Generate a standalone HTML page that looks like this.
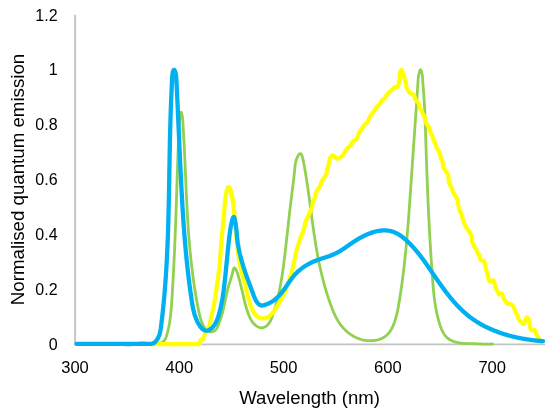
<!DOCTYPE html>
<html><head><meta charset="utf-8"><title>Normalised quantum emission</title>
<style>html,body{margin:0;padding:0;background:#fff}svg{display:block}text{font-family:"Liberation Sans",sans-serif;fill:#000}</style></head>
<body>
<svg width="550" height="413" viewBox="0 0 550 413">
<rect width="550" height="413" fill="#fff"/>
<line x1="75.1" y1="14.8" x2="75.1" y2="345.1" stroke="#c4c4c4" stroke-width="1.9"/>
<line x1="74.5" y1="344.3" x2="545" y2="344.3" stroke="#c4c4c4" stroke-width="1.7"/>
<path d="M150.22,343.61 L150.86,343.58 L151.69,343.57 L152.66,343.59 L153.75,343.60 L154.93,343.60 L156.16,343.58 L157.41,343.50 L158.65,343.36 L159.84,343.15 L160.97,342.84 L161.99,342.42 L162.88,341.88 L163.65,341.23 L164.32,340.48 L164.89,339.65 L165.39,338.75 L165.82,337.80 L166.20,336.81 L166.54,335.79 L166.85,334.75 L167.16,333.72 L167.44,332.68 L167.72,331.63 L167.98,330.59 L168.23,329.54 L168.47,328.49 L168.69,327.44 L168.91,326.39 L169.11,325.33 L169.30,324.27 L169.49,323.21 L169.66,322.15 L169.82,321.09 L169.98,320.03 L170.13,318.96 L170.27,317.89 L170.40,316.82 L170.53,315.76 L170.65,314.69 L170.76,313.61 L170.87,312.54 L170.97,311.47 L171.07,310.40 L171.16,309.32 L171.25,308.25 L171.33,307.17 L171.42,306.10 L171.50,305.02 L171.57,303.95 L171.65,302.87 L171.72,301.80 L171.79,300.72 L171.87,299.65 L171.94,298.57 L172.01,297.50 L172.08,296.42 L172.15,295.35 L172.22,294.28 L172.29,293.20 L172.35,292.13 L172.42,291.06 L172.49,289.98 L172.55,288.91 L172.62,287.84 L172.68,286.77 L172.74,285.70 L172.81,284.62 L172.87,283.55 L172.93,282.48 L172.99,281.41 L173.05,280.34 L173.11,279.27 L173.17,278.20 L173.23,277.13 L173.29,276.06 L173.35,274.99 L173.40,273.92 L173.46,272.85 L173.52,271.78 L173.57,270.71 L173.63,269.64 L173.68,268.57 L173.74,267.50 L173.79,266.43 L173.84,265.37 L173.90,264.30 L173.95,263.23 L174.00,262.16 L174.05,261.09 L174.10,260.02 L174.15,258.95 L174.20,257.89 L174.25,256.82 L174.30,255.75 L174.35,254.68 L174.40,253.61 L174.45,252.55 L174.49,251.48 L174.54,250.41 L174.59,249.34 L174.63,248.27 L174.68,247.21 L174.72,246.14 L174.77,245.07 L174.81,244.00 L174.86,242.93 L174.90,241.87 L174.95,240.80 L174.99,239.73 L175.03,238.66 L175.08,237.59 L175.12,236.53 L175.16,235.46 L175.20,234.39 L175.24,233.32 L175.28,232.25 L175.33,231.19 L175.37,230.12 L175.41,229.05 L175.45,227.98 L175.49,226.91 L175.53,225.84 L175.57,224.77 L175.60,223.70 L175.64,222.63 L175.68,221.57 L175.72,220.50 L175.76,219.43 L175.80,218.36 L175.84,217.29 L175.87,216.22 L175.91,215.15 L175.95,214.08 L175.99,213.01 L176.02,211.94 L176.06,210.87 L176.10,209.79 L176.13,208.72 L176.17,207.65 L176.21,206.58 L176.24,205.51 L176.28,204.44 L176.31,203.37 L176.35,202.29 L176.39,201.22 L176.42,200.15 L176.46,199.07 L176.49,198.00 L176.53,196.93 L176.56,195.85 L176.60,194.78 L176.63,193.71 L176.67,192.63 L176.71,191.56 L176.74,190.48 L176.78,189.41 L176.81,188.33 L176.85,187.26 L176.88,186.18 L176.92,185.10 L176.95,184.03 L176.99,182.95 L177.02,181.87 L177.06,180.79 L177.09,179.72 L177.13,178.64 L177.16,177.56 L177.20,176.48 L177.24,175.40 L177.27,174.32 L177.31,173.24 L177.34,172.16 L177.38,171.08 L177.42,170.00 L177.45,168.92 L177.49,167.83 L177.52,166.75 L177.56,165.67 L177.60,164.59 L177.63,163.50 L177.67,162.42 L177.71,161.33 L177.75,160.25 L177.78,159.16 L177.82,158.08 L177.86,156.99 L177.90,155.90 L177.93,154.82 L177.97,153.73 L178.01,152.64 L178.05,151.55 L178.09,150.46 L178.13,149.37 L178.17,148.29 L178.21,147.20 L178.25,146.11 L178.29,145.02 L178.33,143.94 L178.37,142.86 L178.41,141.78 L178.45,140.70 L178.50,139.64 L178.54,138.57 L178.58,137.52 L178.63,136.47 L178.67,135.42 L178.72,134.39 L178.77,133.36 L178.81,132.35 L178.86,131.34 L178.91,130.35 L178.96,129.36 L179.01,128.39 L179.06,127.43 L179.12,126.47 L179.18,125.51 L179.25,124.54 L179.33,123.54 L179.42,122.50 L179.53,121.42 L179.65,120.29 L179.80,119.10 L179.97,117.83 L180.16,116.48 L180.38,115.04 L180.63,113.67 L180.90,112.64 L181.18,112.21 L181.47,112.57 L181.75,113.55 L182.02,114.89 L182.25,116.31 L182.44,117.63 L182.60,118.86 L182.72,120.00 L182.82,121.07 L182.89,122.09 L182.95,123.08 L183.01,124.04 L183.06,125.01 L183.11,125.99 L183.16,126.98 L183.21,127.99 L183.27,129.01 L183.32,130.04 L183.38,131.08 L183.44,132.13 L183.50,133.19 L183.56,134.26 L183.62,135.34 L183.69,136.41 L183.75,137.50 L183.81,138.58 L183.87,139.67 L183.93,140.76 L183.99,141.85 L184.05,142.94 L184.11,144.02 L184.16,145.11 L184.22,146.20 L184.28,147.28 L184.33,148.36 L184.39,149.45 L184.44,150.53 L184.49,151.62 L184.54,152.70 L184.60,153.78 L184.65,154.86 L184.70,155.94 L184.75,157.02 L184.80,158.10 L184.85,159.18 L184.89,160.26 L184.94,161.34 L184.99,162.42 L185.04,163.49 L185.09,164.57 L185.13,165.65 L185.18,166.72 L185.23,167.80 L185.27,168.87 L185.32,169.95 L185.36,171.02 L185.41,172.10 L185.45,173.17 L185.50,174.24 L185.54,175.32 L185.59,176.39 L185.63,177.46 L185.68,178.53 L185.72,179.61 L185.77,180.68 L185.82,181.75 L185.86,182.82 L185.91,183.89 L185.95,184.96 L186.00,186.03 L186.04,187.10 L186.09,188.17 L186.14,189.24 L186.18,190.31 L186.23,191.38 L186.28,192.45 L186.33,193.52 L186.37,194.59 L186.42,195.65 L186.47,196.72 L186.52,197.79 L186.57,198.86 L186.62,199.93 L186.67,201.00 L186.72,202.06 L186.78,203.13 L186.83,204.20 L186.88,205.27 L186.94,206.33 L186.99,207.40 L187.05,208.47 L187.10,209.54 L187.16,210.60 L187.22,211.67 L187.28,212.74 L187.34,213.81 L187.40,214.87 L187.46,215.94 L187.52,217.01 L187.58,218.08 L187.65,219.14 L187.71,220.21 L187.78,221.28 L187.84,222.35 L187.91,223.41 L187.98,224.48 L188.05,225.55 L188.12,226.62 L188.20,227.69 L188.27,228.75 L188.34,229.82 L188.42,230.89 L188.50,231.96 L188.58,233.03 L188.65,234.10 L188.74,235.16 L188.82,236.23 L188.90,237.30 L188.99,238.37 L189.07,239.44 L189.16,240.51 L189.25,241.58 L189.34,242.64 L189.43,243.71 L189.52,244.78 L189.61,245.85 L189.71,246.92 L189.81,247.99 L189.91,249.05 L190.00,250.12 L190.11,251.19 L190.21,252.26 L190.31,253.33 L190.42,254.40 L190.53,255.46 L190.63,256.53 L190.74,257.60 L190.86,258.67 L190.97,259.73 L191.09,260.80 L191.20,261.87 L191.32,262.94 L191.44,264.00 L191.56,265.07 L191.69,266.14 L191.81,267.21 L191.94,268.27 L192.07,269.34 L192.20,270.41 L192.33,271.47 L192.46,272.54 L192.60,273.61 L192.74,274.67 L192.88,275.74 L193.02,276.80 L193.16,277.87 L193.30,278.93 L193.45,280.00 L193.60,281.07 L193.75,282.13 L193.90,283.19 L194.06,284.26 L194.21,285.32 L194.37,286.39 L194.53,287.45 L194.70,288.52 L194.86,289.58 L195.03,290.64 L195.20,291.71 L195.37,292.77 L195.54,293.83 L195.72,294.89 L195.89,295.96 L196.07,297.02 L196.25,298.08 L196.44,299.14 L196.62,300.20 L196.81,301.26 L197.00,302.32 L197.19,303.38 L197.39,304.44 L197.59,305.50 L197.79,306.56 L197.99,307.62 L198.20,308.68 L198.41,309.73 L198.63,310.77 L198.85,311.82 L199.08,312.85 L199.32,313.88 L199.56,314.90 L199.82,315.91 L200.08,316.91 L200.36,317.91 L200.66,318.91 L200.99,319.90 L201.33,320.89 L201.71,321.88 L202.11,322.88 L202.55,323.88 L203.03,324.89 L203.55,325.91 L204.11,326.91 L204.72,327.87 L205.39,328.79 L206.11,329.62 L206.89,330.35 L207.74,330.96 L208.65,331.42 L209.64,331.72 L210.70,331.83 L211.78,331.78 L212.85,331.55 L213.88,331.16 L214.82,330.62 L215.63,329.93 L216.32,329.12 L216.92,328.20 L217.43,327.22 L217.88,326.19 L218.30,325.15 L218.70,324.11 L219.09,323.09 L219.46,322.08 L219.83,321.07 L220.18,320.07 L220.52,319.07 L220.85,318.08 L221.18,317.08 L221.49,316.08 L221.79,315.08 L222.08,314.07 L222.37,313.05 L222.64,312.02 L222.91,310.99 L223.17,309.95 L223.42,308.90 L223.67,307.85 L223.91,306.79 L224.15,305.72 L224.39,304.65 L224.62,303.58 L224.85,302.50 L225.07,301.42 L225.30,300.34 L225.52,299.26 L225.74,298.18 L225.96,297.10 L226.19,296.03 L226.41,294.96 L226.64,293.90 L226.87,292.85 L227.11,291.80 L227.35,290.77 L227.59,289.75 L227.84,288.75 L228.09,287.75 L228.36,286.78 L228.63,285.82 L228.90,284.88 L229.19,283.96 L229.48,283.04 L229.78,282.12 L230.09,281.19 L230.40,280.24 L230.71,279.26 L231.03,278.23 L231.36,277.16 L231.68,276.02 L232.01,274.81 L232.34,273.53 L232.67,272.15 L233.00,270.77 L233.36,269.51 L233.76,268.53 L234.22,267.98 L234.74,267.98 L235.32,268.54 L235.91,269.50 L236.48,270.67 L236.99,271.88 L237.40,273.01 L237.75,274.07 L238.05,275.09 L238.34,276.10 L238.62,277.11 L238.90,278.13 L239.18,279.15 L239.45,280.17 L239.72,281.20 L239.99,282.22 L240.25,283.26 L240.52,284.29 L240.78,285.33 L241.04,286.37 L241.29,287.41 L241.55,288.45 L241.80,289.50 L242.05,290.55 L242.30,291.60 L242.55,292.65 L242.80,293.70 L243.05,294.76 L243.29,295.81 L243.54,296.87 L243.78,297.92 L244.03,298.98 L244.28,300.03 L244.54,301.08 L244.80,302.14 L245.06,303.19 L245.33,304.23 L245.61,305.28 L245.90,306.32 L246.19,307.36 L246.49,308.39 L246.81,309.42 L247.13,310.45 L247.47,311.47 L247.82,312.48 L248.19,313.49 L248.57,314.49 L248.96,315.48 L249.38,316.47 L249.81,317.44 L250.28,318.40 L250.77,319.34 L251.29,320.26 L251.86,321.16 L252.47,322.02 L253.12,322.86 L253.83,323.66 L254.59,324.42 L255.41,325.14 L256.29,325.82 L257.24,326.43 L258.23,326.97 L259.26,327.39 L260.32,327.68 L261.38,327.80 L262.45,327.74 L263.50,327.51 L264.51,327.13 L265.48,326.63 L266.39,326.02 L267.21,325.34 L267.96,324.58 L268.64,323.77 L269.26,322.90 L269.82,321.99 L270.34,321.04 L270.81,320.05 L271.25,319.04 L271.65,318.02 L272.04,316.98 L272.41,315.94 L272.78,314.90 L273.13,313.86 L273.48,312.83 L273.82,311.80 L274.15,310.78 L274.47,309.75 L274.79,308.73 L275.10,307.70 L275.40,306.68 L275.70,305.66 L275.99,304.63 L276.28,303.61 L276.56,302.58 L276.83,301.56 L277.10,300.53 L277.36,299.49 L277.62,298.46 L277.87,297.43 L278.12,296.39 L278.36,295.35 L278.60,294.32 L278.83,293.27 L279.06,292.23 L279.28,291.19 L279.50,290.14 L279.71,289.10 L279.92,288.05 L280.13,287.00 L280.33,285.95 L280.52,284.90 L280.72,283.85 L280.91,282.80 L281.09,281.74 L281.27,280.69 L281.45,279.63 L281.63,278.57 L281.80,277.52 L281.97,276.46 L282.13,275.40 L282.29,274.34 L282.45,273.27 L282.61,272.21 L282.77,271.15 L282.92,270.08 L283.07,269.02 L283.21,267.95 L283.36,266.89 L283.50,265.82 L283.64,264.75 L283.78,263.69 L283.91,262.62 L284.05,261.55 L284.18,260.48 L284.31,259.41 L284.44,258.34 L284.57,257.27 L284.70,256.20 L284.83,255.13 L284.95,254.06 L285.08,252.99 L285.20,251.92 L285.32,250.85 L285.45,249.78 L285.57,248.71 L285.69,247.64 L285.81,246.57 L285.93,245.50 L286.05,244.43 L286.17,243.36 L286.29,242.28 L286.41,241.21 L286.53,240.14 L286.65,239.07 L286.77,238.00 L286.88,236.93 L287.00,235.86 L287.12,234.79 L287.24,233.73 L287.36,232.66 L287.47,231.59 L287.59,230.52 L287.71,229.45 L287.83,228.38 L287.95,227.32 L288.06,226.25 L288.18,225.18 L288.30,224.12 L288.42,223.05 L288.54,221.99 L288.66,220.92 L288.78,219.86 L288.90,218.79 L289.02,217.73 L289.14,216.67 L289.26,215.60 L289.38,214.54 L289.50,213.48 L289.63,212.42 L289.75,211.36 L289.87,210.30 L290.00,209.24 L290.12,208.18 L290.25,207.13 L290.38,206.07 L290.50,205.01 L290.63,203.96 L290.76,202.91 L290.89,201.85 L291.02,200.80 L291.15,199.74 L291.28,198.69 L291.41,197.64 L291.54,196.58 L291.68,195.53 L291.81,194.48 L291.94,193.42 L292.07,192.37 L292.20,191.31 L292.33,190.25 L292.46,189.19 L292.60,188.13 L292.73,187.07 L292.85,186.01 L292.98,184.94 L293.11,183.88 L293.24,182.81 L293.37,181.74 L293.49,180.66 L293.62,179.59 L293.74,178.51 L293.86,177.43 L293.98,176.34 L294.10,175.26 L294.22,174.17 L294.34,173.07 L294.45,171.98 L294.57,170.88 L294.68,169.77 L294.79,168.67 L294.91,167.56 L295.03,166.45 L295.17,165.35 L295.32,164.26 L295.50,163.18 L295.71,162.11 L295.95,161.06 L296.23,160.02 L296.55,159.01 L296.92,158.02 L297.35,157.06 L297.83,156.13 L298.38,155.24 L298.99,154.38 L299.69,153.67 L300.52,153.64 L301.32,154.35 L301.89,155.44 L302.30,156.65 L302.62,157.79 L302.87,158.86 L303.09,159.88 L303.29,160.89 L303.49,161.91 L303.69,162.93 L303.89,163.95 L304.08,164.98 L304.27,166.01 L304.46,167.05 L304.65,168.08 L304.84,169.12 L305.02,170.17 L305.20,171.21 L305.38,172.26 L305.55,173.31 L305.73,174.36 L305.90,175.42 L306.07,176.47 L306.24,177.53 L306.41,178.59 L306.58,179.65 L306.74,180.71 L306.90,181.77 L307.06,182.84 L307.22,183.90 L307.38,184.96 L307.54,186.03 L307.69,187.09 L307.85,188.16 L308.00,189.22 L308.15,190.29 L308.30,191.35 L308.45,192.42 L308.60,193.49 L308.75,194.55 L308.90,195.62 L309.04,196.69 L309.19,197.75 L309.33,198.82 L309.48,199.89 L309.62,200.95 L309.76,202.02 L309.91,203.09 L310.05,204.16 L310.19,205.22 L310.33,206.29 L310.47,207.36 L310.62,208.43 L310.76,209.49 L310.90,210.56 L311.04,211.63 L311.18,212.69 L311.32,213.76 L311.46,214.83 L311.61,215.90 L311.75,216.96 L311.89,218.03 L312.04,219.09 L312.18,220.16 L312.32,221.23 L312.47,222.29 L312.61,223.36 L312.76,224.42 L312.91,225.49 L313.06,226.55 L313.20,227.62 L313.35,228.68 L313.51,229.75 L313.66,230.81 L313.81,231.87 L313.97,232.94 L314.12,234.00 L314.28,235.06 L314.44,236.12 L314.60,237.18 L314.76,238.24 L314.92,239.30 L315.09,240.36 L315.25,241.42 L315.42,242.48 L315.59,243.54 L315.76,244.60 L315.93,245.66 L316.11,246.71 L316.29,247.77 L316.47,248.82 L316.65,249.88 L316.83,250.93 L317.02,251.99 L317.21,253.04 L317.40,254.09 L317.59,255.14 L317.79,256.19 L317.99,257.25 L318.19,258.29 L318.39,259.34 L318.60,260.39 L318.81,261.44 L319.02,262.49 L319.23,263.53 L319.45,264.58 L319.67,265.62 L319.90,266.66 L320.12,267.71 L320.35,268.75 L320.59,269.79 L320.82,270.83 L321.06,271.87 L321.31,272.91 L321.55,273.94 L321.80,274.98 L322.06,276.02 L322.31,277.05 L322.58,278.09 L322.84,279.12 L323.11,280.16 L323.38,281.19 L323.65,282.22 L323.93,283.26 L324.22,284.29 L324.50,285.32 L324.79,286.35 L325.09,287.38 L325.39,288.41 L325.69,289.44 L326.00,290.46 L326.31,291.49 L326.62,292.52 L326.94,293.54 L327.26,294.57 L327.59,295.60 L327.92,296.62 L328.26,297.65 L328.60,298.67 L328.94,299.70 L329.29,300.72 L329.65,301.74 L330.01,302.77 L330.37,303.79 L330.74,304.81 L331.11,305.83 L331.49,306.85 L331.87,307.87 L332.27,308.89 L332.67,309.90 L333.08,310.91 L333.50,311.91 L333.93,312.91 L334.37,313.90 L334.82,314.88 L335.28,315.86 L335.76,316.83 L336.26,317.79 L336.77,318.74 L337.29,319.68 L337.83,320.60 L338.39,321.52 L338.97,322.42 L339.57,323.31 L340.18,324.19 L340.82,325.05 L341.48,325.89 L342.15,326.72 L342.85,327.53 L343.56,328.33 L344.30,329.10 L345.05,329.86 L345.82,330.60 L346.61,331.31 L347.42,332.01 L348.24,332.69 L349.09,333.34 L349.94,333.97 L350.82,334.58 L351.71,335.16 L352.61,335.72 L353.53,336.25 L354.47,336.75 L355.41,337.23 L356.38,337.68 L357.35,338.11 L358.35,338.50 L359.35,338.87 L360.36,339.20 L361.39,339.51 L362.43,339.78 L363.48,340.02 L364.55,340.23 L365.62,340.40 L366.70,340.54 L367.79,340.64 L368.89,340.71 L369.98,340.74 L371.08,340.74 L372.18,340.69 L373.27,340.61 L374.35,340.49 L375.43,340.33 L376.50,340.12 L377.56,339.87 L378.61,339.58 L379.63,339.25 L380.64,338.87 L381.63,338.45 L382.59,337.99 L383.52,337.48 L384.42,336.93 L385.29,336.34 L386.12,335.70 L386.91,335.02 L387.66,334.29 L388.37,333.52 L389.05,332.72 L389.68,331.88 L390.29,331.01 L390.86,330.11 L391.40,329.18 L391.91,328.23 L392.40,327.25 L392.86,326.26 L393.29,325.25 L393.70,324.23 L394.09,323.20 L394.46,322.15 L394.81,321.11 L395.15,320.06 L395.47,319.01 L395.78,317.96 L396.07,316.91 L396.35,315.86 L396.62,314.81 L396.88,313.77 L397.12,312.72 L397.36,311.67 L397.59,310.62 L397.81,309.57 L398.02,308.52 L398.22,307.47 L398.42,306.42 L398.61,305.37 L398.79,304.32 L398.97,303.27 L399.15,302.22 L399.32,301.17 L399.49,300.12 L399.66,299.07 L399.83,298.01 L400.00,296.96 L400.16,295.91 L400.32,294.85 L400.48,293.80 L400.64,292.74 L400.80,291.68 L400.95,290.63 L401.11,289.57 L401.26,288.51 L401.41,287.46 L401.56,286.40 L401.71,285.34 L401.85,284.28 L402.00,283.22 L402.14,282.16 L402.28,281.10 L402.42,280.04 L402.56,278.98 L402.70,277.92 L402.83,276.86 L402.97,275.80 L403.10,274.73 L403.23,273.67 L403.36,272.61 L403.49,271.54 L403.62,270.48 L403.75,269.42 L403.87,268.35 L403.99,267.29 L404.12,266.22 L404.24,265.16 L404.36,264.09 L404.48,263.03 L404.59,261.96 L404.71,260.89 L404.82,259.83 L404.94,258.76 L405.05,257.69 L405.16,256.62 L405.27,255.56 L405.38,254.49 L405.49,253.42 L405.60,252.35 L405.70,251.28 L405.81,250.21 L405.91,249.14 L406.02,248.07 L406.12,247.00 L406.22,245.93 L406.32,244.86 L406.42,243.79 L406.52,242.72 L406.62,241.65 L406.71,240.58 L406.81,239.51 L406.90,238.44 L407.00,237.37 L407.09,236.30 L407.18,235.23 L407.28,234.16 L407.37,233.08 L407.46,232.01 L407.55,230.94 L407.64,229.87 L407.72,228.80 L407.81,227.72 L407.90,226.65 L407.98,225.58 L408.07,224.51 L408.15,223.43 L408.24,222.36 L408.32,221.29 L408.40,220.22 L408.49,219.14 L408.57,218.07 L408.65,217.00 L408.73,215.93 L408.81,214.85 L408.89,213.78 L408.97,212.71 L409.05,211.64 L409.13,210.56 L409.21,209.49 L409.28,208.42 L409.36,207.35 L409.44,206.27 L409.52,205.20 L409.59,204.13 L409.67,203.06 L409.74,201.98 L409.82,200.91 L409.89,199.84 L409.97,198.77 L410.04,197.70 L410.12,196.63 L410.19,195.55 L410.27,194.48 L410.34,193.41 L410.41,192.34 L410.49,191.27 L410.56,190.20 L410.63,189.13 L410.71,188.06 L410.78,186.99 L410.85,185.92 L410.93,184.85 L411.00,183.78 L411.07,182.71 L411.15,181.64 L411.22,180.57 L411.29,179.50 L411.37,178.43 L411.44,177.36 L411.51,176.29 L411.59,175.22 L411.66,174.16 L411.73,173.09 L411.81,172.02 L411.88,170.95 L411.95,169.88 L412.03,168.82 L412.10,167.75 L412.17,166.68 L412.25,165.62 L412.32,164.55 L412.39,163.48 L412.47,162.41 L412.54,161.35 L412.62,160.28 L412.69,159.21 L412.76,158.15 L412.84,157.08 L412.91,156.01 L412.99,154.95 L413.06,153.88 L413.13,152.81 L413.21,151.75 L413.28,150.68 L413.36,149.61 L413.43,148.54 L413.50,147.48 L413.58,146.41 L413.65,145.34 L413.73,144.27 L413.80,143.21 L413.88,142.14 L413.95,141.07 L414.02,140.00 L414.10,138.94 L414.17,137.87 L414.25,136.80 L414.32,135.73 L414.39,134.66 L414.47,133.59 L414.54,132.52 L414.62,131.45 L414.69,130.38 L414.77,129.31 L414.84,128.24 L414.91,127.17 L414.99,126.10 L415.06,125.03 L415.14,123.96 L415.21,122.88 L415.29,121.81 L415.36,120.74 L415.43,119.67 L415.51,118.59 L415.58,117.52 L415.66,116.44 L415.73,115.37 L415.81,114.30 L415.88,113.22 L415.95,112.14 L416.03,111.07 L416.10,109.99 L416.18,108.91 L416.25,107.84 L416.32,106.76 L416.40,105.68 L416.47,104.60 L416.55,103.52 L416.62,102.44 L416.69,101.36 L416.77,100.28 L416.84,99.20 L416.92,98.12 L416.99,97.03 L417.06,95.95 L417.14,94.87 L417.21,93.78 L417.28,92.70 L417.36,91.62 L417.43,90.54 L417.50,89.46 L417.58,88.39 L417.65,87.32 L417.72,86.26 L417.79,85.21 L417.86,84.17 L417.93,83.14 L418.00,82.12 L418.07,81.11 L418.13,80.11 L418.20,79.12 L418.28,78.14 L418.38,77.13 L418.52,76.08 L418.70,74.97 L418.94,73.79 L419.26,72.52 L419.65,71.19 L420.10,70.15 L420.58,69.82 L421.05,70.43 L421.48,71.62 L421.84,72.95 L422.11,74.19 L422.31,75.34 L422.45,76.42 L422.55,77.44 L422.61,78.44 L422.67,79.42 L422.72,80.41 L422.78,81.42 L422.85,82.44 L422.92,83.49 L423.00,84.54 L423.09,85.61 L423.18,86.68 L423.27,87.76 L423.36,88.84 L423.45,89.93 L423.53,91.01 L423.62,92.10 L423.70,93.18 L423.78,94.26 L423.85,95.34 L423.93,96.42 L424.00,97.50 L424.07,98.58 L424.14,99.66 L424.21,100.74 L424.27,101.82 L424.34,102.90 L424.40,103.97 L424.46,105.05 L424.51,106.12 L424.57,107.20 L424.62,108.27 L424.68,109.35 L424.73,110.42 L424.78,111.50 L424.83,112.57 L424.88,113.64 L424.92,114.71 L424.97,115.79 L425.01,116.86 L425.05,117.93 L425.10,119.00 L425.14,120.07 L425.18,121.14 L425.22,122.21 L425.25,123.28 L425.29,124.35 L425.33,125.42 L425.37,126.49 L425.40,127.56 L425.44,128.63 L425.47,129.70 L425.51,130.77 L425.54,131.84 L425.57,132.91 L425.61,133.98 L425.64,135.04 L425.67,136.11 L425.71,137.18 L425.74,138.25 L425.77,139.32 L425.81,140.39 L425.84,141.46 L425.87,142.53 L425.91,143.60 L425.94,144.67 L425.98,145.74 L426.01,146.81 L426.05,147.88 L426.08,148.95 L426.11,150.02 L426.15,151.09 L426.18,152.16 L426.22,153.23 L426.26,154.30 L426.29,155.38 L426.33,156.45 L426.36,157.52 L426.40,158.59 L426.44,159.66 L426.47,160.73 L426.51,161.80 L426.55,162.87 L426.58,163.95 L426.62,165.02 L426.66,166.09 L426.70,167.16 L426.74,168.23 L426.77,169.30 L426.81,170.38 L426.85,171.45 L426.89,172.52 L426.93,173.59 L426.97,174.66 L427.01,175.74 L427.05,176.81 L427.09,177.88 L427.13,178.95 L427.17,180.03 L427.21,181.10 L427.26,182.17 L427.30,183.24 L427.34,184.32 L427.38,185.39 L427.43,186.46 L427.47,187.53 L427.51,188.61 L427.56,189.68 L427.60,190.75 L427.64,191.83 L427.69,192.90 L427.73,193.97 L427.78,195.04 L427.82,196.12 L427.87,197.19 L427.92,198.26 L427.96,199.34 L428.01,200.41 L428.06,201.48 L428.10,202.55 L428.15,203.63 L428.20,204.70 L428.25,205.77 L428.30,206.85 L428.35,207.92 L428.40,208.99 L428.45,210.07 L428.50,211.14 L428.55,212.21 L428.60,213.28 L428.65,214.36 L428.70,215.43 L428.75,216.50 L428.81,217.58 L428.86,218.65 L428.91,219.72 L428.97,220.79 L429.02,221.87 L429.07,222.94 L429.13,224.01 L429.18,225.08 L429.24,226.16 L429.30,227.23 L429.35,228.30 L429.41,229.37 L429.47,230.45 L429.53,231.52 L429.58,232.59 L429.64,233.66 L429.70,234.74 L429.76,235.81 L429.82,236.88 L429.88,237.95 L429.94,239.02 L430.00,240.10 L430.07,241.17 L430.13,242.24 L430.19,243.31 L430.26,244.38 L430.32,245.45 L430.38,246.53 L430.45,247.60 L430.51,248.67 L430.58,249.74 L430.65,250.81 L430.71,251.88 L430.78,252.95 L430.85,254.02 L430.92,255.09 L430.98,256.17 L431.05,257.24 L431.12,258.31 L431.19,259.38 L431.26,260.45 L431.34,261.52 L431.41,262.59 L431.48,263.66 L431.55,264.73 L431.63,265.80 L431.70,266.87 L431.77,267.94 L431.85,269.01 L431.93,270.08 L432.00,271.14 L432.08,272.21 L432.16,273.28 L432.23,274.35 L432.31,275.42 L432.39,276.49 L432.47,277.56 L432.55,278.63 L432.63,279.69 L432.71,280.76 L432.80,281.83 L432.88,282.90 L432.96,283.96 L433.05,285.03 L433.14,286.10 L433.23,287.17 L433.32,288.23 L433.42,289.30 L433.51,290.36 L433.61,291.43 L433.72,292.49 L433.83,293.56 L433.94,294.62 L434.05,295.69 L434.17,296.75 L434.30,297.81 L434.43,298.87 L434.57,299.94 L434.71,301.00 L434.85,302.06 L435.01,303.12 L435.16,304.17 L435.33,305.23 L435.50,306.29 L435.68,307.35 L435.87,308.40 L436.06,309.46 L436.26,310.51 L436.47,311.56 L436.69,312.62 L436.92,313.67 L437.16,314.72 L437.40,315.77 L437.66,316.81 L437.92,317.86 L438.20,318.91 L438.48,319.95 L438.77,321.00 L439.08,322.04 L439.40,323.08 L439.72,324.12 L440.06,325.16 L440.42,326.20 L440.78,327.23 L441.17,328.26 L441.57,329.27 L442.00,330.26 L442.46,331.24 L442.94,332.20 L443.46,333.13 L444.02,334.03 L444.61,334.90 L445.24,335.73 L445.92,336.52 L446.65,337.27 L447.42,337.97 L448.25,338.63 L449.14,339.23 L450.06,339.78 L451.03,340.29 L452.03,340.75 L453.05,341.16 L454.08,341.54 L455.13,341.87 L456.17,342.17 L457.22,342.43 L458.28,342.66 L459.33,342.85 L460.39,343.02 L461.44,343.17 L462.50,343.29 L463.56,343.38 L464.62,343.46 L465.69,343.53 L466.75,343.58 L467.82,343.61 L468.89,343.64 L469.96,343.67 L471.03,343.68 L472.10,343.70 L473.17,343.72 L474.24,343.74 L475.32,343.76 L476.39,343.79 L477.47,343.83 L478.54,343.87 L479.62,343.91 L480.70,343.95 L481.77,343.99 L482.85,344.03 L483.92,344.06 L485.00,344.09 L486.07,344.11 L487.15,344.11 L488.22,344.11 L489.29,344.09 L490.36,344.06 L491.43,344.01 L492.49,343.95" fill="none" stroke="#92d050" stroke-width="2.8" stroke-linejoin="round" stroke-linecap="round"/>
<path d="M150.00,344.10 L150.50,344.10 L151.00,344.10 L151.50,344.10 L152.00,344.10 L152.50,344.10 L153.00,344.10 L153.50,344.10 L154.00,344.10 L154.50,344.10 L155.00,344.10 L155.50,344.10 L156.00,344.10 L156.50,344.10 L157.00,344.10 L157.50,344.10 L158.00,344.10 L158.50,344.10 L159.00,344.10 L159.50,344.10 L160.00,344.10 L160.50,344.10 L161.00,344.10 L161.50,344.10 L162.00,344.10 L162.50,344.10 L163.00,344.10 L163.50,344.10 L164.00,344.10 L164.50,344.10 L165.00,344.10 L165.50,344.10 L166.00,344.10 L166.50,344.10 L167.00,344.10 L167.50,344.10 L168.00,344.10 L168.50,344.10 L169.00,344.10 L169.50,344.10 L170.00,344.10 L170.50,344.10 L171.00,344.10 L171.50,344.10 L172.00,344.10 L172.50,344.10 L173.00,344.10 L173.50,344.10 L174.00,344.10 L174.50,344.10 L175.00,344.10 L175.50,344.10 L176.00,344.10 L176.50,344.10 L177.00,344.10 L177.50,344.10 L178.00,344.10 L178.50,344.10 L179.00,344.10 L179.50,344.10 L180.00,344.10 L180.50,344.10 L181.00,344.10 L181.50,344.10 L182.00,344.10 L182.50,344.10 L183.00,344.10 L183.50,344.10 L184.00,344.10 L184.50,344.10 L185.00,344.10 L185.50,344.10 L186.00,344.10 L186.50,344.10 L187.00,344.10 L187.50,344.10 L188.00,344.10 L188.50,344.10 L189.00,344.10 L189.50,344.10 L190.00,344.10 L190.50,344.10 L191.00,344.10 L191.50,344.10 L192.00,344.10 L192.50,344.10 L193.00,344.10 L193.50,344.10 L194.00,344.10 L194.50,344.10 L195.00,344.10 L195.50,344.10 L196.00,344.10 L196.50,344.10 L197.00,344.10 L197.50,344.10 L198.00,344.10 L198.50,344.10 L199.00,344.10 L199.49,344.02 L199.69,343.62 L199.80,343.13 L199.91,342.64 L200.03,342.16 L200.16,341.67 L200.29,341.19 L200.43,340.71 L200.65,340.27 L200.95,339.89 L201.41,339.71 L201.91,339.65 L202.40,339.61 L202.88,339.50 L203.24,339.18 L203.41,338.71 L203.59,338.24 L203.72,337.75 L203.84,337.27 L203.97,336.79 L204.10,336.31 L204.24,335.82 L204.38,335.34 L204.56,334.88 L204.76,334.42 L204.97,333.97 L205.19,333.52 L205.42,333.07 L205.65,332.63 L205.89,332.19 L206.12,331.75 L206.35,331.30 L206.57,330.86 L206.79,330.41 L207.03,329.96 L207.26,329.52 L207.49,329.08 L207.72,328.64 L207.95,328.19 L208.17,327.74 L208.38,327.29 L208.58,326.83 L208.78,326.37 L208.96,325.91 L209.14,325.44 L209.30,324.97 L209.45,324.49 L209.60,324.01 L209.73,323.53 L209.85,323.04 L209.97,322.56 L210.08,322.07 L210.19,321.58 L210.30,321.10 L210.41,320.61 L210.51,320.12 L210.61,319.63 L210.72,319.14 L210.82,318.65 L210.92,318.16 L211.02,317.67 L211.13,317.18 L211.23,316.69 L211.34,316.20 L211.44,315.72 L211.55,315.23 L211.66,314.74 L211.78,314.25 L211.89,313.77 L212.01,313.28 L212.13,312.79 L212.24,312.31 L212.36,311.82 L212.48,311.34 L212.60,310.85 L212.72,310.37 L212.84,309.88 L212.95,309.39 L213.06,308.91 L213.18,308.42 L213.29,307.93 L213.39,307.44 L213.50,306.95 L213.61,306.47 L213.70,305.97 L213.80,305.48 L213.90,304.99 L213.99,304.50 L214.08,304.01 L214.17,303.52 L214.26,303.03 L214.35,302.53 L214.43,302.04 L214.52,301.55 L214.60,301.06 L214.68,300.56 L214.76,300.07 L214.84,299.58 L214.92,299.08 L215.00,298.59 L215.07,298.09 L215.15,297.60 L215.23,297.11 L215.30,296.61 L215.37,296.12 L215.45,295.62 L215.52,295.13 L215.59,294.63 L215.67,294.14 L215.74,293.64 L215.81,293.15 L215.88,292.65 L215.95,292.16 L216.02,291.66 L216.09,291.17 L216.16,290.67 L216.23,290.18 L216.30,289.68 L216.37,289.19 L216.44,288.69 L216.51,288.20 L216.58,287.70 L216.65,287.21 L216.72,286.71 L216.79,286.22 L216.86,285.72 L216.93,285.23 L217.00,284.73 L217.07,284.24 L217.14,283.74 L217.21,283.25 L217.28,282.75 L217.35,282.26 L217.42,281.76 L217.49,281.27 L217.56,280.77 L217.63,280.28 L217.71,279.78 L217.78,279.29 L217.85,278.79 L217.92,278.30 L217.99,277.80 L218.06,277.31 L218.13,276.81 L218.20,276.32 L218.27,275.82 L218.34,275.33 L218.41,274.83 L218.47,274.34 L218.54,273.84 L218.61,273.34 L218.67,272.85 L218.74,272.35 L218.80,271.86 L218.86,271.36 L218.92,270.87 L218.98,270.37 L219.05,269.87 L219.11,269.38 L219.17,268.88 L219.22,268.38 L219.28,267.89 L219.33,267.39 L219.39,266.89 L219.44,266.40 L219.50,265.90 L219.55,265.40 L219.61,264.90 L219.65,264.41 L219.70,263.91 L219.74,263.41 L219.79,262.91 L219.84,262.41 L219.88,261.92 L219.93,261.42 L219.98,260.92 L220.02,260.42 L220.06,259.92 L220.09,259.43 L220.13,258.93 L220.17,258.43 L220.21,257.93 L220.24,257.43 L220.28,256.93 L220.32,256.43 L220.36,255.94 L220.39,255.44 L220.43,254.94 L220.46,254.44 L220.50,253.94 L220.53,253.44 L220.57,252.94 L220.60,252.44 L220.64,251.95 L220.67,251.45 L220.71,250.95 L220.74,250.45 L220.78,249.95 L220.81,249.45 L220.85,248.95 L220.88,248.45 L220.92,247.96 L220.96,247.46 L220.99,246.96 L221.03,246.46 L221.07,245.96 L221.10,245.46 L221.14,244.96 L221.17,244.46 L221.21,243.97 L221.25,243.47 L221.29,242.97 L221.34,242.47 L221.38,241.97 L221.42,241.48 L221.46,240.98 L221.50,240.48 L221.54,239.98 L221.58,239.48 L221.63,238.98 L221.68,238.49 L221.72,237.99 L221.77,237.49 L221.82,236.99 L221.86,236.49 L221.91,236.00 L221.96,235.50 L222.00,235.00 L222.05,234.50 L222.10,234.01 L222.15,233.51 L222.20,233.01 L222.25,232.51 L222.30,232.02 L222.35,231.52 L222.40,231.02 L222.45,230.52 L222.51,230.03 L222.56,229.53 L222.61,229.03 L222.66,228.53 L222.71,228.04 L222.76,227.54 L222.81,227.04 L222.86,226.54 L222.91,226.05 L222.96,225.55 L223.01,225.05 L223.06,224.55 L223.11,224.06 L223.16,223.56 L223.20,223.06 L223.25,222.56 L223.30,222.07 L223.34,221.57 L223.39,221.07 L223.43,220.57 L223.48,220.07 L223.52,219.58 L223.57,219.08 L223.61,218.58 L223.66,218.08 L223.70,217.58 L223.74,217.09 L223.78,216.59 L223.82,216.09 L223.86,215.59 L223.90,215.09 L223.94,214.59 L223.98,214.10 L224.03,213.60 L224.07,213.10 L224.11,212.60 L224.15,212.10 L224.19,211.60 L224.23,211.11 L224.27,210.61 L224.31,210.11 L224.35,209.61 L224.39,209.11 L224.43,208.61 L224.47,208.12 L224.51,207.62 L224.56,207.12 L224.60,206.62 L224.64,206.12 L224.69,205.62 L224.73,205.13 L224.77,204.63 L224.82,204.13 L224.87,203.63 L224.92,203.14 L224.97,202.64 L225.02,202.14 L225.07,201.64 L225.12,201.15 L225.18,200.65 L225.23,200.15 L225.30,199.66 L225.36,199.16 L225.43,198.66 L225.49,198.17 L225.55,197.67 L225.62,197.18 L225.69,196.68 L225.77,196.19 L225.84,195.69 L225.92,195.20 L225.99,194.70 L226.08,194.21 L226.17,193.72 L226.26,193.23 L226.35,192.74 L226.45,192.25 L226.56,191.76 L226.67,191.27 L226.79,190.79 L226.91,190.30 L227.04,189.82 L227.17,189.34 L227.34,188.87 L227.51,188.40 L227.74,187.96 L228.02,187.54 L228.36,187.17 L228.82,187.02 L229.23,187.29 L229.56,187.67 L229.82,188.10 L230.05,188.54 L230.20,189.02 L230.35,189.49 L230.49,189.97 L230.61,190.46 L230.73,190.94 L230.86,191.43 L230.98,191.91 L231.10,192.40 L231.23,192.88 L231.35,193.37 L231.47,193.85 L231.59,194.34 L231.70,194.82 L231.82,195.31 L231.93,195.80 L232.04,196.29 L232.14,196.78 L232.24,197.27 L232.34,197.76 L232.43,198.25 L232.52,198.74 L232.61,199.23 L232.70,199.72 L232.78,200.22 L232.86,200.71 L232.93,201.20 L233.00,201.70 L233.07,202.19 L233.14,202.69 L233.21,203.18 L233.27,203.68 L233.33,204.18 L233.39,204.67 L233.46,205.17 L233.52,205.67 L233.58,206.16 L233.63,206.66 L233.69,207.16 L233.74,207.65 L233.80,208.15 L233.85,208.65 L233.91,209.14 L233.96,209.64 L234.01,210.14 L234.06,210.64 L234.11,211.13 L234.15,211.63 L234.20,212.13 L234.25,212.63 L234.30,213.12 L234.34,213.62 L234.39,214.12 L234.43,214.62 L234.48,215.12 L234.52,215.61 L234.56,216.11 L234.60,216.61 L234.65,217.11 L234.69,217.61 L234.73,218.11 L234.78,218.60 L234.82,219.10 L234.86,219.60 L234.91,220.10 L234.95,220.60 L235.00,221.09 L235.04,221.59 L235.09,222.09 L235.13,222.59 L235.17,223.09 L235.22,223.58 L235.26,224.08 L235.30,224.58 L235.35,225.08 L235.39,225.58 L235.43,226.07 L235.48,226.57 L235.52,227.07 L235.56,227.57 L235.61,228.07 L235.65,228.57 L235.69,229.06 L235.74,229.56 L235.78,230.06 L235.82,230.56 L235.87,231.06 L235.91,231.55 L235.96,232.05 L236.00,232.55 L236.04,233.05 L236.09,233.55 L236.13,234.04 L236.18,234.54 L236.23,235.04 L236.27,235.54 L236.32,236.04 L236.36,236.53 L236.41,237.03 L236.46,237.53 L236.51,238.03 L236.56,238.52 L236.60,239.02 L236.65,239.52 L236.70,240.02 L236.75,240.51 L236.80,241.01 L236.85,241.51 L236.91,242.01 L236.96,242.50 L237.01,243.00 L237.06,243.50 L237.11,244.00 L237.17,244.49 L237.22,244.99 L237.27,245.49 L237.32,245.98 L237.38,246.48 L237.43,246.98 L237.48,247.48 L237.54,247.97 L237.59,248.47 L237.64,248.97 L237.70,249.46 L237.76,249.96 L237.81,250.46 L237.87,250.96 L237.92,251.45 L237.98,251.95 L238.04,252.45 L238.10,252.94 L238.15,253.44 L238.21,253.94 L238.27,254.43 L238.33,254.93 L238.39,255.42 L238.46,255.92 L238.53,256.42 L238.59,256.91 L238.66,257.41 L238.73,257.90 L238.79,258.40 L238.87,258.89 L238.95,259.39 L239.02,259.88 L239.10,260.37 L239.18,260.87 L239.27,261.36 L239.36,261.85 L239.45,262.34 L239.54,262.84 L239.63,263.33 L239.73,263.82 L239.83,264.31 L239.93,264.80 L240.04,265.28 L240.15,265.77 L240.26,266.26 L240.37,266.75 L240.48,267.23 L240.60,267.72 L240.72,268.21 L240.84,268.69 L240.96,269.18 L241.09,269.66 L241.21,270.14 L241.34,270.63 L241.47,271.11 L241.60,271.59 L241.73,272.08 L241.86,272.56 L241.99,273.04 L242.11,273.53 L242.24,274.01 L242.37,274.49 L242.50,274.98 L242.62,275.46 L242.75,275.94 L242.88,276.43 L243.01,276.91 L243.14,277.39 L243.27,277.87 L243.41,278.36 L243.55,278.84 L243.68,279.32 L243.82,279.80 L243.96,280.28 L244.09,280.76 L244.23,281.24 L244.37,281.72 L244.50,282.20 L244.63,282.69 L244.77,283.17 L244.90,283.65 L245.02,284.13 L245.15,284.62 L245.27,285.10 L245.39,285.59 L245.51,286.07 L245.63,286.56 L245.74,287.05 L245.86,287.53 L245.97,288.02 L246.08,288.51 L246.19,289.00 L246.30,289.48 L246.41,289.97 L246.52,290.46 L246.63,290.95 L246.74,291.43 L246.85,291.92 L246.97,292.41 L247.08,292.89 L247.20,293.38 L247.32,293.87 L247.44,294.35 L247.56,294.84 L247.68,295.32 L247.81,295.80 L247.94,296.29 L248.06,296.77 L248.19,297.26 L248.32,297.74 L248.45,298.22 L248.58,298.70 L248.71,299.19 L248.84,299.67 L248.98,300.15 L249.11,300.63 L249.25,301.11 L249.39,301.59 L249.53,302.07 L249.68,302.55 L249.83,303.03 L249.98,303.50 L250.14,303.98 L250.30,304.45 L250.47,304.92 L250.65,305.39 L250.83,305.86 L251.01,306.32 L251.19,306.79 L251.37,307.25 L251.56,307.72 L251.75,308.18 L251.94,308.64 L252.14,309.10 L252.34,309.56 L252.55,310.01 L252.76,310.46 L252.98,310.91 L253.21,311.36 L253.44,311.80 L253.69,312.24 L253.94,312.67 L254.22,313.09 L254.50,313.50 L254.80,313.90 L255.11,314.29 L255.42,314.68 L255.74,315.07 L256.07,315.44 L256.42,315.80 L256.78,316.15 L257.16,316.47 L257.57,316.76 L258.00,317.00 L258.46,317.21 L258.91,317.42 L259.37,317.62 L259.83,317.81 L260.30,317.98 L260.78,318.14 L261.26,318.27 L261.75,318.37 L262.24,318.45 L262.74,318.49 L263.24,318.49 L263.74,318.45 L264.23,318.37 L264.72,318.26 L265.20,318.13 L265.68,317.97 L266.14,317.80 L266.61,317.61 L267.07,317.41 L267.53,317.21 L267.98,317.01 L268.43,316.78 L268.85,316.52 L269.26,316.23 L269.66,315.92 L270.04,315.60 L270.41,315.26 L270.76,314.91 L271.12,314.56 L271.46,314.20 L271.80,313.83 L272.14,313.46 L272.47,313.09 L272.81,312.72 L273.14,312.34 L273.46,311.96 L273.77,311.56 L274.07,311.17 L274.36,310.76 L274.65,310.35 L274.93,309.94 L275.20,309.52 L275.47,309.10 L275.74,308.68 L276.01,308.25 L276.27,307.83 L276.53,307.40 L276.79,306.98 L277.05,306.55 L277.31,306.12 L277.57,305.69 L277.84,305.27 L278.10,304.84 L278.36,304.42 L278.62,303.99 L278.87,303.56 L279.13,303.13 L279.38,302.70 L279.63,302.26 L279.88,301.83 L280.13,301.40 L280.38,300.96 L280.62,300.53 L280.86,300.09 L281.11,299.65 L281.35,299.21 L281.58,298.77 L281.82,298.33 L282.06,297.89 L282.29,297.45 L282.53,297.01 L282.77,296.57 L283.00,296.13 L283.23,295.69 L283.46,295.24 L283.69,294.80 L283.91,294.35 L284.13,293.90 L284.35,293.45 L284.56,292.99 L284.76,292.54 L284.96,292.08 L285.16,291.62 L285.35,291.16 L285.54,290.70 L285.72,290.23 L285.90,289.76 L286.08,289.30 L286.26,288.83 L286.43,288.36 L286.60,287.89 L286.77,287.42 L286.93,286.95 L287.10,286.47 L287.26,286.00 L287.42,285.53 L287.58,285.06 L287.74,284.58 L287.90,284.11 L288.06,283.63 L288.22,283.16 L288.37,282.68 L288.53,282.21 L288.68,281.73 L288.84,281.26 L289.00,280.78 L289.15,280.31 L289.30,279.83 L289.46,279.36 L289.61,278.88 L289.77,278.40 L289.92,277.93 L290.07,277.45 L290.22,276.98 L290.37,276.50 L290.52,276.02 L290.67,275.54 L290.82,275.07 L290.96,274.59 L291.10,274.11 L291.25,273.63 L291.38,273.15 L291.52,272.67 L291.66,272.19 L291.79,271.70 L291.92,271.22 L292.05,270.74 L292.18,270.26 L292.31,269.77 L292.43,269.29 L292.55,268.80 L292.66,268.32 L292.78,267.83 L292.89,267.34 L293.00,266.85 L293.11,266.37 L293.22,265.88 L293.33,265.39 L293.43,264.90 L293.54,264.41 L293.64,263.92 L293.75,263.43 L293.86,262.95 L293.96,262.46 L294.07,261.97 L294.17,261.48 L294.28,260.99 L294.39,260.50 L294.50,260.02 L294.60,259.53 L294.71,259.04 L294.82,258.55 L294.92,258.06 L295.03,257.57 L295.13,257.08 L295.24,256.60 L295.34,256.11 L295.45,255.62 L295.55,255.13 L295.66,254.64 L295.77,254.15 L295.87,253.66 L295.98,253.17 L296.09,252.69 L296.21,252.20 L296.32,251.71 L296.44,251.23 L296.56,250.74 L296.69,250.26 L296.81,249.77 L296.94,249.29 L297.08,248.81 L297.21,248.33 L297.35,247.85 L297.49,247.37 L297.63,246.89 L297.77,246.41 L297.91,245.93 L298.05,245.45 L298.20,244.97 L298.35,244.49 L298.50,244.02 L298.65,243.54 L298.80,243.06 L298.95,242.59 L299.11,242.11 L299.27,241.64 L299.42,241.16 L299.58,240.69 L299.74,240.22 L299.91,239.74 L300.07,239.27 L300.23,238.80 L300.40,238.33 L300.57,237.86 L300.74,237.39 L300.91,236.92 L301.09,236.45 L301.28,235.99 L301.47,235.52 L301.67,235.06 L301.87,234.61 L302.08,234.15 L302.28,233.69 L302.47,233.23 L302.66,232.76 L302.83,232.29 L302.98,231.82 L303.12,231.34 L303.26,230.86 L303.40,230.37 L303.53,229.89 L303.67,229.41 L303.81,228.93 L303.96,228.45 L304.10,227.97 L304.24,227.49 L304.38,227.01 L304.50,226.52 L304.62,226.03 L304.73,225.54 L304.84,225.05 L304.94,224.56 L305.04,224.06 L305.14,223.57 L305.26,223.08 L305.38,222.60 L305.51,222.11 L305.66,221.64 L305.82,221.16 L306.01,220.70 L306.21,220.24 L306.43,219.79 L306.67,219.34 L306.90,218.89 L307.13,218.44 L307.36,217.99 L307.57,217.53 L307.77,217.07 L307.97,216.61 L308.17,216.15 L308.38,215.69 L308.60,215.24 L308.84,214.79 L309.07,214.34 L309.29,213.89 L309.50,213.43 L309.68,212.97 L309.84,212.49 L309.99,212.02 L310.14,211.54 L310.30,211.07 L310.48,210.60 L310.68,210.14 L310.89,209.69 L311.12,209.23 L311.34,208.78 L311.55,208.33 L311.74,207.87 L311.91,207.40 L312.05,206.92 L312.17,206.44 L312.28,205.95 L312.37,205.45 L312.44,204.94 L312.51,204.43 L312.56,203.92 L312.63,203.41 L312.70,202.90 L312.79,202.40 L312.92,201.91 L313.09,201.44 L313.29,200.98 L313.52,200.53 L313.76,200.09 L314.00,199.65 L314.23,199.20 L314.43,198.75 L314.61,198.28 L314.76,197.80 L314.89,197.31 L315.00,196.82 L315.11,196.32 L315.22,195.82 L315.33,195.33 L315.45,194.83 L315.58,194.34 L315.72,193.86 L315.86,193.37 L316.02,192.89 L316.18,192.42 L316.36,191.95 L316.56,191.49 L316.79,191.04 L317.03,190.60 L317.31,190.17 L317.60,189.76 L317.90,189.34 L318.22,188.94 L318.54,188.53 L318.85,188.12 L319.14,187.71 L319.42,187.29 L319.68,186.85 L319.91,186.41 L320.12,185.96 L320.31,185.49 L320.48,185.02 L320.65,184.55 L320.81,184.07 L320.97,183.58 L321.13,183.11 L321.31,182.63 L321.50,182.16 L321.70,181.70 L321.91,181.24 L322.14,180.80 L322.37,180.36 L322.63,179.93 L322.89,179.51 L323.18,179.10 L323.48,178.69 L323.80,178.30 L324.11,177.90 L324.42,177.49 L324.72,177.08 L324.99,176.65 L325.24,176.21 L325.47,175.76 L325.68,175.30 L325.89,174.84 L326.08,174.37 L326.26,173.91 L326.43,173.43 L326.60,172.96 L326.74,172.47 L326.86,171.98 L326.95,171.49 L327.03,170.99 L327.09,170.48 L327.14,169.98 L327.21,169.48 L327.29,168.98 L327.39,168.49 L327.52,168.01 L327.65,167.53 L327.81,167.05 L327.96,166.57 L328.12,166.10 L328.27,165.62 L328.41,165.14 L328.53,164.66 L328.64,164.17 L328.74,163.68 L328.82,163.18 L328.91,162.69 L329.00,162.20 L329.10,161.71 L329.22,161.23 L329.34,160.74 L329.47,160.25 L329.60,159.77 L329.73,159.29 L329.85,158.80 L330.02,158.32 L330.21,157.85 L330.45,157.40 L330.75,156.99 L331.09,156.61 L331.45,156.25 L331.83,155.92 L332.22,155.65 L332.59,155.44 L332.88,155.34 L333.00,155.35 L333.14,155.50 L333.41,155.80 L333.72,156.16 L334.05,156.54 L334.38,156.94 L334.76,157.34 L335.20,157.71 L335.69,157.98 L336.17,158.20 L336.66,158.41 L337.18,158.57 L337.73,158.65 L338.30,158.63 L338.86,158.48 L339.35,158.22 L339.78,157.91 L340.18,157.57 L340.56,157.22 L340.93,156.89 L341.31,156.56 L341.71,156.26 L342.11,155.96 L342.50,155.63 L342.85,155.26 L343.15,154.86 L343.43,154.44 L343.69,154.01 L343.94,153.57 L344.18,153.14 L344.42,152.70 L344.68,152.26 L344.94,151.83 L345.21,151.41 L345.47,150.98 L345.73,150.56 L346.00,150.13 L346.27,149.71 L346.56,149.30 L346.87,148.90 L347.20,148.52 L347.55,148.15 L347.91,147.79 L348.30,147.45 L348.71,147.15 L349.12,146.86 L349.53,146.57 L349.93,146.27 L350.32,145.94 L350.67,145.58 L350.99,145.18 L351.27,144.76 L351.47,144.29 L351.66,143.83 L351.83,143.35 L352.00,142.88 L352.19,142.42 L352.42,141.97 L352.71,141.56 L353.05,141.20 L353.46,140.92 L353.90,140.71 L354.36,140.55 L354.82,140.38 L355.29,140.18 L355.75,139.90 L356.18,139.53 L356.55,139.08 L356.83,138.60 L357.06,138.10 L357.25,137.61 L357.43,137.11 L357.61,136.63 L357.78,136.14 L357.95,135.66 L358.13,135.19 L358.31,134.71 L358.48,134.24 L358.65,133.77 L358.84,133.30 L359.04,132.85 L359.28,132.41 L359.54,131.98 L359.83,131.56 L360.13,131.15 L360.44,130.75 L360.75,130.35 L361.05,129.94 L361.35,129.53 L361.63,129.11 L361.91,128.69 L362.18,128.27 L362.46,127.85 L362.75,127.43 L363.03,127.02 L363.32,126.62 L363.61,126.21 L363.90,125.81 L364.19,125.42 L364.51,125.04 L364.83,124.67 L365.19,124.31 L365.57,123.96 L365.96,123.61 L366.35,123.26 L366.74,122.90 L367.12,122.54 L367.46,122.17 L367.76,121.77 L368.03,121.36 L368.25,120.92 L368.44,120.46 L368.60,119.98 L368.75,119.48 L368.91,118.98 L369.07,118.49 L369.27,118.01 L369.49,117.55 L369.74,117.11 L370.02,116.69 L370.29,116.27 L370.58,115.86 L370.85,115.44 L371.13,115.02 L371.40,114.59 L371.67,114.17 L371.95,113.75 L372.24,113.33 L372.54,112.93 L372.85,112.54 L373.18,112.16 L373.51,111.79 L373.84,111.42 L374.16,111.04 L374.47,110.66 L374.77,110.26 L375.03,109.85 L375.28,109.42 L375.52,108.99 L375.76,108.56 L376.01,108.14 L376.29,107.73 L376.59,107.33 L376.93,106.95 L377.28,106.58 L377.65,106.22 L378.02,105.87 L378.39,105.51 L378.74,105.14 L379.08,104.77 L379.40,104.38 L379.70,103.98 L379.97,103.56 L380.23,103.12 L380.47,102.68 L380.71,102.24 L380.96,101.79 L381.22,101.36 L381.50,100.95 L381.82,100.56 L382.16,100.20 L382.54,99.85 L382.93,99.53 L383.34,99.21 L383.74,98.89 L384.13,98.56 L384.50,98.21 L384.83,97.84 L385.14,97.44 L385.42,97.03 L385.69,96.60 L385.95,96.17 L386.21,95.74 L386.48,95.32 L386.77,94.91 L387.07,94.51 L387.39,94.12 L387.72,93.74 L388.06,93.37 L388.40,93.01 L388.76,92.65 L389.12,92.29 L389.48,91.95 L389.85,91.62 L390.23,91.30 L390.60,91.00 L390.96,90.70 L391.30,90.42 L391.66,90.13 L392.03,89.81 L392.37,89.46 L392.71,89.09 L393.05,88.71 L393.39,88.33 L393.76,87.96 L394.16,87.61 L394.61,87.32 L395.09,87.09 L395.61,86.94 L396.11,86.87 L396.61,86.85 L397.09,86.83 L397.54,86.81 L397.87,86.71 L398.07,86.35 L398.25,85.91 L398.35,85.43 L398.43,84.94 L398.50,84.45 L398.57,83.96 L398.64,83.46 L398.74,82.97 L398.86,82.49 L398.99,82.00 L399.13,81.52 L399.26,81.03 L399.38,80.55 L399.47,80.05 L399.55,79.56 L399.60,79.06 L399.65,78.57 L399.69,78.07 L399.73,77.57 L399.77,77.07 L399.81,76.57 L399.84,76.07 L399.87,75.57 L399.88,75.06 L399.89,74.56 L399.90,74.06 L399.93,73.54 L400.01,73.03 L400.12,72.54 L400.27,72.06 L400.44,71.58 L400.66,71.11 L400.88,70.65 L401.11,70.17 L401.49,69.84 L401.77,70.04 L401.97,70.47 L402.13,70.93 L402.30,71.40 L402.47,71.86 L402.66,72.32 L402.86,72.78 L403.09,73.24 L403.33,73.69 L403.52,74.17 L403.71,74.64 L403.88,75.11 L404.02,75.60 L404.12,76.09 L404.20,76.59 L404.27,77.08 L404.34,77.58 L404.42,78.07 L404.50,78.56 L404.60,79.05 L404.71,79.53 L404.85,80.01 L405.01,80.48 L405.17,80.96 L405.34,81.42 L405.51,81.90 L405.68,82.37 L405.82,82.84 L405.94,83.33 L406.04,83.82 L406.11,84.31 L406.17,84.81 L406.23,85.31 L406.29,85.81 L406.38,86.31 L406.49,86.80 L406.64,87.28 L406.80,87.75 L406.99,88.21 L407.17,88.68 L407.38,89.13 L407.59,89.59 L407.80,90.03 L408.04,90.47 L408.29,90.89 L408.55,91.30 L408.85,91.68 L409.17,92.06 L409.49,92.44 L409.83,92.81 L410.20,93.15 L410.61,93.46 L411.07,93.71 L411.57,93.87 L412.06,93.97 L412.53,94.06 L412.95,94.20 L413.30,94.48 L413.61,94.85 L413.89,95.26 L414.14,95.70 L414.36,96.14 L414.55,96.61 L414.71,97.09 L414.86,97.58 L415.00,98.08 L415.15,98.58 L415.32,99.06 L415.51,99.53 L415.74,99.96 L416.01,100.37 L416.33,100.75 L416.68,101.12 L417.07,101.48 L417.44,101.87 L417.81,102.26 L418.14,102.67 L418.44,103.09 L418.68,103.54 L418.88,104.00 L419.02,104.47 L419.14,104.96 L419.23,105.45 L419.33,105.94 L419.44,106.44 L419.58,106.92 L419.74,107.40 L419.94,107.86 L420.16,108.31 L420.41,108.74 L420.66,109.17 L420.92,109.60 L421.17,110.03 L421.41,110.47 L421.64,110.92 L421.85,111.38 L422.06,111.83 L422.26,112.29 L422.46,112.75 L422.67,113.21 L422.89,113.66 L423.13,114.10 L423.38,114.54 L423.63,114.98 L423.88,115.41 L424.13,115.85 L424.36,116.30 L424.56,116.75 L424.73,117.22 L424.86,117.71 L424.96,118.20 L425.05,118.71 L425.12,119.23 L425.21,119.74 L425.30,120.25 L425.42,120.76 L425.55,121.25 L425.70,121.74 L425.85,122.23 L426.02,122.70 L426.19,123.17 L426.39,123.63 L426.61,124.07 L426.86,124.50 L427.14,124.91 L427.45,125.31 L427.77,125.71 L428.09,126.11 L428.39,126.52 L428.68,126.94 L428.95,127.37 L429.18,127.81 L429.39,128.26 L429.57,128.73 L429.74,129.20 L429.89,129.68 L430.03,130.16 L430.17,130.65 L430.30,131.13 L430.44,131.61 L430.59,132.09 L430.75,132.56 L430.92,133.02 L431.11,133.49 L431.31,133.94 L431.52,134.40 L431.73,134.85 L431.94,135.31 L432.13,135.77 L432.31,136.24 L432.47,136.71 L432.61,137.19 L432.75,137.67 L432.89,138.16 L433.04,138.63 L433.21,139.11 L433.39,139.58 L433.60,140.03 L433.81,140.49 L434.03,140.94 L434.24,141.39 L434.45,141.85 L434.64,142.31 L434.83,142.78 L435.00,143.25 L435.17,143.72 L435.35,144.18 L435.54,144.65 L435.74,145.11 L435.94,145.57 L436.14,146.02 L436.32,146.49 L436.50,146.96 L436.67,147.43 L436.84,147.90 L437.03,148.36 L437.24,148.81 L437.49,149.25 L437.76,149.68 L438.06,150.10 L438.37,150.51 L438.67,150.93 L438.94,151.36 L439.18,151.80 L439.38,152.25 L439.56,152.72 L439.71,153.20 L439.84,153.69 L439.96,154.18 L440.08,154.68 L440.18,155.17 L440.29,155.67 L440.39,156.17 L440.49,156.66 L440.60,157.16 L440.73,157.64 L440.88,158.12 L441.06,158.58 L441.26,159.04 L441.49,159.48 L441.73,159.93 L441.97,160.37 L442.20,160.82 L442.40,161.28 L442.57,161.75 L442.70,162.23 L442.79,162.73 L442.85,163.23 L442.89,163.74 L442.92,164.25 L442.95,164.76 L442.98,165.27 L443.04,165.77 L443.12,166.27 L443.23,166.76 L443.37,167.25 L443.56,167.72 L443.77,168.18 L444.02,168.63 L444.30,169.07 L444.58,169.51 L444.88,169.94 L445.18,170.36 L445.48,170.78 L445.80,171.18 L446.11,171.59 L446.43,171.99 L446.75,172.39 L447.05,172.80 L447.34,173.22 L447.59,173.66 L447.81,174.13 L448.00,174.61 L448.14,175.10 L448.26,175.61 L448.35,176.13 L448.41,176.65 L448.46,177.17 L448.49,177.69 L448.52,178.20 L448.54,178.72 L448.56,179.23 L448.58,179.74 L448.62,180.24 L448.68,180.74 L448.76,181.24 L448.87,181.73 L449.00,182.21 L449.16,182.69 L449.33,183.16 L449.51,183.63 L449.72,184.09 L449.93,184.55 L450.15,185.00 L450.39,185.45 L450.63,185.89 L450.88,186.32 L451.12,186.76 L451.36,187.20 L451.57,187.65 L451.77,188.11 L451.94,188.57 L452.10,189.04 L452.24,189.52 L452.38,190.00 L452.52,190.49 L452.66,190.97 L452.82,191.45 L453.00,191.92 L453.19,192.38 L453.40,192.83 L453.64,193.27 L453.91,193.70 L454.19,194.11 L454.49,194.51 L454.79,194.91 L455.09,195.31 L455.37,195.73 L455.64,196.15 L455.90,196.59 L456.14,197.02 L456.38,197.47 L456.61,197.92 L456.84,198.38 L457.06,198.84 L457.25,199.31 L457.43,199.78 L457.59,200.26 L457.71,200.75 L457.81,201.24 L457.88,201.74 L457.94,202.24 L457.99,202.74 L458.05,203.24 L458.13,203.74 L458.21,204.24 L458.30,204.73 L458.42,205.22 L458.53,205.71 L458.63,206.21 L458.74,206.70 L458.83,207.21 L458.93,207.71 L459.03,208.20 L459.14,208.70 L459.27,209.19 L459.42,209.66 L459.59,210.13 L459.79,210.58 L460.01,211.03 L460.25,211.47 L460.49,211.91 L460.74,212.35 L460.97,212.79 L461.18,213.25 L461.37,213.71 L461.53,214.18 L461.66,214.66 L461.78,215.15 L461.90,215.63 L462.01,216.12 L462.13,216.61 L462.26,217.09 L462.41,217.57 L462.57,218.05 L462.73,218.52 L462.91,219.00 L463.07,219.47 L463.25,219.94 L463.40,220.41 L463.53,220.88 L463.67,221.35 L463.80,221.83 L463.93,222.30 L464.08,222.77 L464.24,223.24 L464.42,223.70 L464.62,224.15 L464.84,224.60 L465.08,225.04 L465.31,225.48 L465.56,225.92 L465.80,226.35 L466.05,226.79 L466.30,227.22 L466.55,227.65 L466.81,228.08 L467.07,228.50 L467.32,228.92 L467.59,229.35 L467.86,229.77 L468.13,230.19 L468.41,230.62 L468.69,231.04 L468.97,231.46 L469.25,231.88 L469.53,232.31 L469.80,232.74 L470.06,233.17 L470.32,233.61 L470.56,234.06 L470.79,234.51 L471.01,234.97 L471.22,235.43 L471.40,235.91 L471.57,236.39 L471.71,236.88 L471.84,237.38 L471.93,237.90 L471.99,238.40 L472.04,238.91 L472.06,239.43 L472.08,239.94 L472.11,240.45 L472.15,240.95 L472.22,241.45 L472.33,241.94 L472.47,242.42 L472.64,242.89 L472.84,243.35 L473.04,243.81 L473.25,244.26 L473.45,244.72 L473.61,245.16 L473.81,245.59 L473.99,246.02 L474.21,246.43 L474.46,246.84 L474.72,247.24 L475.02,247.63 L475.34,248.02 L475.65,248.42 L475.95,248.83 L476.21,249.26 L476.42,249.70 L476.61,250.15 L476.77,250.59 L476.91,251.05 L477.07,251.50 L477.25,251.95 L477.45,252.40 L477.69,252.84 L477.95,253.28 L478.23,253.71 L478.51,254.14 L478.78,254.58 L479.04,255.01 L479.27,255.46 L479.45,255.93 L479.59,256.41 L479.71,256.90 L479.81,257.39 L479.90,257.89 L480.02,258.38 L480.15,258.87 L480.35,259.35 L480.61,259.81 L481.01,260.17 L481.48,260.41 L481.98,260.53 L482.48,260.60 L482.99,260.68 L483.49,260.85 L483.97,261.14 L484.32,261.58 L484.52,262.09 L484.67,262.59 L484.75,263.10 L484.83,263.59 L484.92,264.08 L485.01,264.58 L485.10,265.07 L485.22,265.56 L485.34,266.04 L485.47,266.52 L485.61,267.00 L485.75,267.48 L485.88,267.96 L485.99,268.44 L486.11,268.93 L486.22,269.41 L486.33,269.90 L486.44,270.39 L486.57,270.87 L486.70,271.35 L486.85,271.83 L487.01,272.30 L487.18,272.78 L487.35,273.24 L487.52,273.72 L487.67,274.19 L487.80,274.68 L487.91,275.16 L488.00,275.66 L488.08,276.15 L488.15,276.65 L488.20,277.15 L488.26,277.65 L488.34,278.15 L488.41,278.65 L488.55,279.13 L488.72,279.60 L488.94,280.06 L489.20,280.50 L489.55,280.90 L490.06,281.07 L490.58,280.99 L491.06,280.85 L491.54,280.71 L492.02,280.57 L492.52,280.47 L493.04,280.40 L493.55,280.57 L493.85,281.00 L494.06,281.47 L494.20,281.95 L494.33,282.44 L494.45,282.92 L494.56,283.42 L494.66,283.91 L494.78,284.40 L494.91,284.88 L495.04,285.36 L495.19,285.84 L495.35,286.31 L495.52,286.78 L495.70,287.24 L495.89,287.71 L496.08,288.17 L496.28,288.64 L496.46,289.11 L496.66,289.57 L496.85,290.03 L497.04,290.49 L497.25,290.94 L497.46,291.39 L497.66,291.85 L497.87,292.31 L498.10,292.75 L498.34,293.18 L498.60,293.59 L498.86,293.96 L499.08,294.21 L499.11,294.26 L499.18,294.23 L499.49,294.09 L499.92,293.87 L500.40,293.63 L500.94,293.44 L501.53,293.42 L501.92,293.78 L502.13,294.22 L502.32,294.68 L502.48,295.15 L502.63,295.63 L502.78,296.11 L502.93,296.59 L503.10,297.07 L503.28,297.52 L503.47,297.98 L503.70,298.42 L503.95,298.85 L504.22,299.29 L504.51,299.71 L504.81,300.13 L505.10,300.55 L505.38,300.97 L505.66,301.37 L505.95,301.78 L506.22,302.21 L506.49,302.63 L506.76,303.03 L507.03,303.42 L507.28,303.75 L507.49,303.95 L507.66,304.01 L507.97,303.98 L508.42,303.92 L508.93,303.86 L509.47,303.84 L510.04,303.90 L510.58,304.06 L511.07,304.29 L511.52,304.58 L511.92,304.89 L512.31,305.21 L512.68,305.54 L513.03,305.86 L513.31,306.23 L513.53,306.64 L513.74,307.07 L513.92,307.52 L514.09,307.99 L514.24,308.46 L514.40,308.94 L514.55,309.42 L514.70,309.89 L514.85,310.36 L515.01,310.82 L515.19,311.27 L515.39,311.73 L515.61,312.18 L515.85,312.63 L516.11,313.07 L516.38,313.51 L516.65,313.94 L516.91,314.38 L517.16,314.82 L517.38,315.27 L517.57,315.73 L517.75,316.20 L517.89,316.68 L518.03,317.18 L518.15,317.68 L518.30,318.18 L518.46,318.68 L518.66,319.15 L518.91,319.60 L519.18,320.03 L519.50,320.44 L519.84,320.82 L520.19,321.20 L520.55,321.57 L520.92,321.94 L521.29,322.31 L521.66,322.66 L522.03,323.01 L522.42,323.37 L522.90,323.71 L523.63,323.87 L524.21,323.42 L524.49,322.92 L524.69,322.43 L524.84,321.93 L524.96,321.44 L525.08,320.95 L525.20,320.46 L525.35,319.99 L525.53,319.52 L525.74,319.07 L525.97,318.62 L526.22,318.19 L526.48,317.77 L526.77,317.43 L527.02,317.29 L527.24,317.49 L527.53,317.84 L527.82,318.25 L528.14,318.67 L528.45,319.09 L528.75,319.52 L528.99,319.99 L529.17,320.46 L529.30,320.97 L529.34,321.49 L529.33,322.00 L529.32,322.51 L529.33,323.02 L529.36,323.52 L529.43,324.02 L529.54,324.51 L529.66,324.99 L529.79,325.47 L529.93,325.94 L530.05,326.43 L530.13,326.92 L530.24,327.40 L530.33,327.90 L530.43,328.41 L530.55,328.92 L530.74,329.44 L531.09,329.96 L531.73,330.30 L532.39,330.26 L532.91,330.11 L533.38,329.95 L533.82,329.81 L534.14,329.71 L534.34,329.84 L534.57,330.17 L534.77,330.59 L534.97,331.04 L535.14,331.51 L535.32,331.97 L535.50,332.44 L535.69,332.91 L535.90,333.38 L536.13,333.83 L536.37,334.27 L536.61,334.71 L536.86,335.15 L537.12,335.58 L537.38,336.01 L537.64,336.43 L537.91,336.86 L538.16,337.29 L538.41,337.72 L538.66,338.15 L538.92,338.58 L539.18,339.01 L539.44,339.44 L539.71,339.86 L539.98,340.28" fill="none" stroke="#ffff00" stroke-width="4.2" stroke-linejoin="round" stroke-linecap="round"/>
<path d="M76.59,343.89 L77.39,343.89 L78.18,343.90 L78.98,343.91 L79.78,343.91 L80.58,343.92 L81.37,343.92 L82.17,343.92 L82.96,343.93 L83.75,343.93 L84.54,343.93 L85.34,343.93 L86.13,343.93 L86.92,343.93 L87.71,343.93 L88.50,343.93 L89.29,343.92 L90.08,343.92 L90.86,343.92 L91.65,343.92 L92.44,343.91 L93.23,343.91 L94.02,343.91 L94.80,343.90 L95.59,343.90 L96.38,343.90 L97.17,343.89 L97.95,343.89 L98.74,343.88 L99.53,343.88 L100.32,343.88 L101.10,343.87 L101.89,343.87 L102.68,343.87 L103.47,343.87 L104.26,343.86 L105.05,343.86 L105.84,343.86 L106.63,343.86 L107.42,343.86 L108.21,343.86 L109.00,343.86 L109.79,343.86 L110.59,343.86 L111.38,343.86 L112.17,343.87 L112.97,343.87 L113.77,343.87 L114.56,343.88 L115.36,343.89 L116.16,343.89 L116.96,343.90 L117.76,343.91 L118.56,343.92 L119.36,343.93 L120.16,343.93 L120.96,343.94 L121.76,343.95 L122.56,343.96 L123.36,343.97 L124.16,343.97 L124.96,343.98 L125.75,343.98 L126.55,343.99 L127.34,343.99 L128.13,343.99 L128.93,343.99 L129.71,343.99 L130.50,343.98 L131.29,343.98 L132.07,343.97 L132.85,343.96 L133.63,343.95 L134.40,343.93 L135.17,343.91 L135.94,343.89 L136.71,343.87 L137.47,343.84 L138.24,343.82 L139.00,343.80 L139.77,343.77 L140.54,343.76 L141.32,343.74 L142.10,343.73 L142.89,343.72 L143.68,343.73 L144.48,343.73 L145.29,343.75 L146.11,343.78 L146.93,343.81 L147.77,343.86 L148.62,343.90 L149.46,343.92 L150.29,343.91 L151.10,343.85 L151.88,343.73 L152.64,343.54 L153.35,343.26 L154.02,342.88 L154.65,342.43 L155.24,341.91 L155.79,341.33 L156.30,340.71 L156.78,340.06 L157.22,339.40 L157.63,338.72 L158.00,338.03 L158.35,337.33 L158.67,336.62 L158.96,335.90 L159.23,335.17 L159.47,334.43 L159.69,333.68 L159.90,332.93 L160.08,332.17 L160.25,331.40 L160.40,330.63 L160.54,329.85 L160.67,329.07 L160.80,328.29 L160.91,327.50 L161.02,326.71 L161.12,325.92 L161.22,325.13 L161.32,324.34 L161.41,323.55 L161.51,322.76 L161.61,321.97 L161.70,321.18 L161.80,320.39 L161.89,319.60 L161.98,318.81 L162.07,318.02 L162.16,317.23 L162.25,316.44 L162.34,315.65 L162.43,314.86 L162.52,314.07 L162.61,313.28 L162.69,312.49 L162.78,311.70 L162.86,310.91 L162.95,310.11 L163.03,309.32 L163.11,308.53 L163.19,307.74 L163.27,306.95 L163.35,306.16 L163.43,305.37 L163.51,304.58 L163.58,303.79 L163.66,303.00 L163.74,302.21 L163.81,301.42 L163.89,300.63 L163.96,299.84 L164.03,299.05 L164.10,298.26 L164.18,297.47 L164.25,296.68 L164.32,295.89 L164.39,295.10 L164.45,294.31 L164.52,293.53 L164.59,292.74 L164.66,291.95 L164.72,291.16 L164.79,290.37 L164.85,289.58 L164.91,288.79 L164.98,288.00 L165.04,287.21 L165.10,286.42 L165.16,285.63 L165.22,284.84 L165.28,284.05 L165.34,283.26 L165.40,282.47 L165.46,281.68 L165.51,280.89 L165.57,280.10 L165.63,279.31 L165.68,278.52 L165.74,277.73 L165.79,276.94 L165.84,276.15 L165.90,275.36 L165.95,274.57 L166.00,273.78 L166.05,272.99 L166.10,272.20 L166.15,271.41 L166.20,270.63 L166.25,269.84 L166.30,269.05 L166.34,268.26 L166.39,267.47 L166.44,266.68 L166.48,265.89 L166.53,265.10 L166.57,264.31 L166.62,263.52 L166.66,262.73 L166.70,261.94 L166.75,261.15 L166.79,260.36 L166.83,259.57 L166.87,258.78 L166.91,257.99 L166.95,257.20 L166.99,256.41 L167.03,255.63 L167.07,254.84 L167.11,254.05 L167.15,253.26 L167.18,252.47 L167.22,251.68 L167.26,250.89 L167.29,250.10 L167.33,249.31 L167.36,248.52 L167.40,247.73 L167.43,246.94 L167.47,246.15 L167.50,245.36 L167.53,244.57 L167.57,243.78 L167.60,242.99 L167.63,242.20 L167.66,241.41 L167.69,240.63 L167.72,239.84 L167.75,239.05 L167.78,238.26 L167.81,237.47 L167.84,236.68 L167.87,235.89 L167.90,235.10 L167.92,234.31 L167.95,233.52 L167.98,232.73 L168.01,231.94 L168.03,231.15 L168.06,230.36 L168.08,229.57 L168.11,228.78 L168.13,227.99 L168.16,227.20 L168.18,226.41 L168.21,225.62 L168.23,224.83 L168.25,224.04 L168.28,223.25 L168.30,222.46 L168.32,221.67 L168.35,220.88 L168.37,220.10 L168.39,219.31 L168.41,218.52 L168.43,217.73 L168.45,216.94 L168.47,216.15 L168.49,215.36 L168.51,214.57 L168.53,213.78 L168.55,212.99 L168.57,212.20 L168.59,211.41 L168.61,210.62 L168.63,209.83 L168.65,209.04 L168.67,208.25 L168.69,207.46 L168.70,206.67 L168.72,205.88 L168.74,205.09 L168.76,204.30 L168.77,203.51 L168.79,202.72 L168.81,201.93 L168.82,201.14 L168.84,200.35 L168.86,199.56 L168.87,198.77 L168.89,197.98 L168.90,197.19 L168.92,196.39 L168.94,195.60 L168.95,194.81 L168.97,194.02 L168.98,193.23 L169.00,192.44 L169.01,191.65 L169.03,190.86 L169.04,190.07 L169.06,189.28 L169.07,188.49 L169.09,187.70 L169.10,186.91 L169.11,186.12 L169.13,185.33 L169.14,184.54 L169.16,183.75 L169.17,182.96 L169.18,182.17 L169.20,181.38 L169.21,180.58 L169.23,179.79 L169.24,179.00 L169.25,178.21 L169.27,177.42 L169.28,176.63 L169.29,175.84 L169.31,175.05 L169.32,174.26 L169.33,173.47 L169.35,172.67 L169.36,171.88 L169.37,171.09 L169.39,170.30 L169.40,169.51 L169.41,168.72 L169.43,167.93 L169.44,167.14 L169.46,166.35 L169.47,165.55 L169.48,164.76 L169.50,163.97 L169.51,163.18 L169.52,162.39 L169.54,161.60 L169.55,160.80 L169.57,160.01 L169.58,159.22 L169.59,158.43 L169.61,157.64 L169.62,156.85 L169.64,156.05 L169.65,155.26 L169.67,154.47 L169.68,153.68 L169.70,152.89 L169.71,152.09 L169.73,151.30 L169.74,150.51 L169.76,149.72 L169.77,148.93 L169.79,148.13 L169.80,147.34 L169.82,146.55 L169.83,145.76 L169.85,144.97 L169.87,144.17 L169.88,143.38 L169.90,142.59 L169.92,141.80 L169.93,141.00 L169.95,140.21 L169.97,139.42 L169.98,138.62 L170.00,137.83 L170.02,137.04 L170.04,136.25 L170.06,135.45 L170.07,134.66 L170.09,133.87 L170.11,133.07 L170.13,132.28 L170.15,131.49 L170.17,130.70 L170.19,129.90 L170.21,129.11 L170.23,128.32 L170.25,127.52 L170.27,126.73 L170.29,125.94 L170.31,125.14 L170.34,124.35 L170.36,123.55 L170.38,122.76 L170.40,121.97 L170.43,121.17 L170.45,120.38 L170.47,119.59 L170.50,118.79 L170.52,118.00 L170.54,117.20 L170.57,116.41 L170.59,115.62 L170.62,114.82 L170.64,114.03 L170.67,113.23 L170.70,112.44 L170.72,111.64 L170.75,110.85 L170.78,110.06 L170.80,109.26 L170.83,108.47 L170.86,107.67 L170.89,106.88 L170.92,106.08 L170.95,105.29 L170.98,104.49 L171.01,103.70 L171.04,102.90 L171.07,102.11 L171.10,101.31 L171.13,100.52 L171.17,99.72 L171.20,98.93 L171.23,98.13 L171.26,97.34 L171.30,96.54 L171.33,95.75 L171.37,94.96 L171.40,94.17 L171.44,93.38 L171.47,92.59 L171.51,91.80 L171.54,91.01 L171.58,90.23 L171.61,89.45 L171.65,88.66 L171.68,87.89 L171.72,87.11 L171.76,86.33 L171.79,85.56 L171.83,84.79 L171.87,84.02 L171.90,83.26 L171.94,82.50 L171.97,81.74 L172.01,80.98 L172.05,80.23 L172.08,79.48 L172.12,78.73 L172.16,77.98 L172.21,77.21 L172.27,76.42 L172.35,75.60 L172.44,74.74 L172.56,73.83 L172.70,72.89 L172.89,71.96 L173.15,71.09 L173.48,70.32 L173.88,69.81 L174.29,69.85 L174.66,70.43 L175.00,71.20 L175.28,71.99 L175.51,72.78 L175.71,73.57 L175.87,74.37 L176.00,75.17 L176.10,75.97 L176.18,76.78 L176.24,77.58 L176.29,78.39 L176.34,79.20 L176.38,80.00 L176.42,80.80 L176.46,81.61 L176.50,82.41 L176.54,83.21 L176.59,84.00 L176.63,84.80 L176.67,85.60 L176.70,86.39 L176.74,87.18 L176.78,87.98 L176.82,88.77 L176.86,89.56 L176.90,90.35 L176.94,91.14 L176.97,91.93 L177.01,92.72 L177.05,93.50 L177.09,94.29 L177.12,95.08 L177.16,95.87 L177.20,96.65 L177.23,97.44 L177.27,98.22 L177.31,99.01 L177.34,99.80 L177.38,100.58 L177.41,101.37 L177.45,102.15 L177.49,102.94 L177.52,103.73 L177.56,104.51 L177.59,105.30 L177.63,106.09 L177.67,106.87 L177.70,107.66 L177.74,108.45 L177.77,109.23 L177.81,110.02 L177.84,110.81 L177.88,111.60 L177.91,112.38 L177.95,113.17 L177.99,113.96 L178.02,114.75 L178.06,115.54 L178.09,116.32 L178.13,117.11 L178.16,117.90 L178.20,118.69 L178.23,119.48 L178.27,120.27 L178.30,121.06 L178.34,121.85 L178.37,122.63 L178.41,123.42 L178.44,124.21 L178.48,125.00 L178.51,125.79 L178.55,126.58 L178.58,127.37 L178.62,128.16 L178.65,128.95 L178.69,129.74 L178.72,130.53 L178.76,131.32 L178.79,132.11 L178.83,132.90 L178.86,133.69 L178.90,134.48 L178.93,135.27 L178.97,136.06 L179.00,136.85 L179.04,137.64 L179.07,138.43 L179.11,139.22 L179.14,140.01 L179.18,140.80 L179.22,141.59 L179.25,142.38 L179.29,143.18 L179.32,143.97 L179.36,144.76 L179.39,145.55 L179.43,146.34 L179.46,147.13 L179.50,147.92 L179.54,148.71 L179.57,149.50 L179.61,150.30 L179.64,151.09 L179.68,151.88 L179.72,152.67 L179.75,153.46 L179.79,154.25 L179.83,155.04 L179.86,155.83 L179.90,156.63 L179.94,157.42 L179.97,158.21 L180.01,159.00 L180.05,159.79 L180.08,160.58 L180.12,161.37 L180.16,162.17 L180.19,162.96 L180.23,163.75 L180.27,164.54 L180.31,165.33 L180.34,166.12 L180.38,166.92 L180.42,167.71 L180.46,168.50 L180.50,169.29 L180.53,170.08 L180.57,170.87 L180.61,171.67 L180.65,172.46 L180.69,173.25 L180.73,174.04 L180.77,174.83 L180.81,175.62 L180.84,176.41 L180.88,177.21 L180.92,178.00 L180.96,178.79 L181.00,179.58 L181.04,180.37 L181.08,181.16 L181.12,181.95 L181.16,182.75 L181.20,183.54 L181.25,184.33 L181.29,185.12 L181.33,185.91 L181.37,186.70 L181.41,187.49 L181.45,188.28 L181.49,189.08 L181.54,189.87 L181.58,190.66 L181.62,191.45 L181.66,192.24 L181.71,193.03 L181.75,193.82 L181.79,194.61 L181.83,195.40 L181.88,196.19 L181.92,196.99 L181.97,197.78 L182.01,198.57 L182.06,199.36 L182.10,200.15 L182.15,200.94 L182.19,201.73 L182.24,202.52 L182.28,203.31 L182.33,204.10 L182.38,204.89 L182.42,205.68 L182.47,206.47 L182.52,207.26 L182.57,208.05 L182.61,208.84 L182.66,209.63 L182.71,210.42 L182.76,211.21 L182.81,212.00 L182.86,212.79 L182.91,213.58 L182.96,214.37 L183.01,215.16 L183.06,215.95 L183.12,216.74 L183.17,217.53 L183.22,218.32 L183.27,219.11 L183.33,219.90 L183.38,220.69 L183.43,221.48 L183.49,222.27 L183.54,223.06 L183.60,223.85 L183.65,224.64 L183.71,225.43 L183.77,226.22 L183.82,227.01 L183.88,227.80 L183.94,228.58 L184.00,229.37 L184.05,230.16 L184.11,230.95 L184.17,231.74 L184.23,232.53 L184.29,233.32 L184.35,234.11 L184.42,234.90 L184.48,235.68 L184.54,236.47 L184.60,237.26 L184.67,238.05 L184.73,238.84 L184.79,239.63 L184.86,240.42 L184.92,241.20 L184.99,241.99 L185.06,242.78 L185.12,243.57 L185.19,244.36 L185.26,245.14 L185.33,245.93 L185.40,246.72 L185.47,247.51 L185.54,248.30 L185.61,249.08 L185.68,249.87 L185.75,250.66 L185.82,251.45 L185.90,252.23 L185.97,253.02 L186.05,253.81 L186.12,254.60 L186.20,255.38 L186.27,256.17 L186.35,256.96 L186.43,257.74 L186.50,258.53 L186.58,259.32 L186.66,260.11 L186.74,260.89 L186.82,261.68 L186.90,262.47 L186.99,263.25 L187.07,264.04 L187.15,264.82 L187.24,265.61 L187.32,266.40 L187.41,267.18 L187.49,267.97 L187.58,268.76 L187.67,269.54 L187.75,270.33 L187.84,271.11 L187.93,271.90 L188.02,272.69 L188.11,273.47 L188.20,274.26 L188.30,275.04 L188.39,275.83 L188.48,276.61 L188.58,277.40 L188.67,278.18 L188.77,278.97 L188.87,279.75 L188.96,280.54 L189.06,281.32 L189.16,282.11 L189.26,282.89 L189.36,283.68 L189.46,284.46 L189.57,285.25 L189.67,286.03 L189.77,286.82 L189.88,287.60 L189.98,288.39 L190.09,289.17 L190.20,289.95 L190.30,290.74 L190.41,291.52 L190.52,292.31 L190.63,293.09 L190.74,293.87 L190.86,294.66 L190.97,295.44 L191.08,296.22 L191.20,297.01 L191.31,297.79 L191.43,298.57 L191.55,299.36 L191.67,300.14 L191.78,300.92 L191.91,301.71 L192.03,302.49 L192.15,303.27 L192.28,304.05 L192.42,304.83 L192.55,305.61 L192.69,306.39 L192.84,307.17 L192.99,307.94 L193.15,308.71 L193.32,309.49 L193.49,310.26 L193.67,311.02 L193.86,311.79 L194.06,312.55 L194.27,313.31 L194.48,314.07 L194.71,314.83 L194.95,315.58 L195.20,316.33 L195.47,317.08 L195.74,317.82 L196.03,318.56 L196.34,319.29 L196.65,320.02 L196.99,320.75 L197.33,321.47 L197.69,322.19 L198.07,322.90 L198.45,323.60 L198.85,324.30 L199.25,324.98 L199.67,325.65 L200.10,326.31 L200.56,326.95 L201.05,327.56 L201.58,328.15 L202.15,328.71 L202.77,329.22 L203.45,329.69 L204.16,330.10 L204.91,330.41 L205.68,330.62 L206.45,330.69 L207.22,330.63 L207.99,330.43 L208.73,330.13 L209.46,329.75 L210.16,329.31 L210.83,328.82 L211.46,328.31 L212.06,327.78 L212.63,327.22 L213.16,326.64 L213.66,326.03 L214.14,325.41 L214.58,324.77 L215.01,324.12 L215.41,323.44 L215.78,322.75 L216.14,322.05 L216.47,321.34 L216.79,320.62 L217.09,319.88 L217.38,319.14 L217.65,318.39 L217.91,317.63 L218.16,316.87 L218.40,316.11 L218.63,315.34 L218.86,314.57 L219.08,313.80 L219.30,313.03 L219.51,312.26 L219.71,311.49 L219.91,310.72 L220.10,309.94 L220.29,309.17 L220.48,308.40 L220.66,307.62 L220.83,306.85 L221.00,306.07 L221.17,305.29 L221.33,304.52 L221.49,303.74 L221.64,302.96 L221.79,302.18 L221.94,301.40 L222.08,300.62 L222.22,299.84 L222.35,299.06 L222.49,298.28 L222.61,297.50 L222.74,296.72 L222.86,295.93 L222.98,295.15 L223.10,294.37 L223.21,293.59 L223.32,292.80 L223.43,292.02 L223.54,291.24 L223.65,290.45 L223.75,289.67 L223.85,288.89 L223.95,288.10 L224.05,287.32 L224.14,286.53 L224.24,285.75 L224.33,284.97 L224.42,284.18 L224.51,283.40 L224.60,282.61 L224.69,281.83 L224.78,281.05 L224.86,280.26 L224.95,279.48 L225.03,278.70 L225.12,277.91 L225.20,277.13 L225.28,276.34 L225.36,275.56 L225.45,274.78 L225.53,273.99 L225.61,273.21 L225.68,272.42 L225.76,271.64 L225.84,270.85 L225.92,270.07 L226.00,269.29 L226.07,268.50 L226.15,267.71 L226.23,266.93 L226.30,266.14 L226.38,265.36 L226.46,264.57 L226.53,263.79 L226.61,263.00 L226.68,262.21 L226.76,261.43 L226.84,260.64 L226.91,259.85 L226.99,259.06 L227.06,258.27 L227.14,257.49 L227.22,256.70 L227.29,255.91 L227.37,255.12 L227.45,254.33 L227.53,253.54 L227.60,252.75 L227.68,251.95 L227.76,251.16 L227.84,250.37 L227.92,249.58 L228.00,248.78 L228.09,247.99 L228.17,247.20 L228.25,246.40 L228.34,245.61 L228.42,244.81 L228.51,244.02 L228.59,243.22 L228.68,242.42 L228.77,241.62 L228.86,240.83 L228.95,240.03 L229.04,239.23 L229.13,238.43 L229.23,237.64 L229.32,236.85 L229.42,236.06 L229.51,235.28 L229.61,234.51 L229.71,233.74 L229.81,232.98 L229.91,232.24 L230.01,231.50 L230.11,230.77 L230.22,230.06 L230.33,229.35 L230.44,228.63 L230.56,227.91 L230.69,227.17 L230.83,226.42 L230.99,225.63 L231.15,224.82 L231.34,223.97 L231.54,223.07 L231.77,222.12 L232.01,221.12 L232.27,220.11 L232.55,219.15 L232.83,218.29 L233.12,217.59 L233.41,217.11 L233.68,216.91 L233.95,217.03 L234.20,217.43 L234.44,218.07 L234.66,218.88 L234.88,219.81 L235.08,220.82 L235.26,221.83 L235.43,222.83 L235.59,223.79 L235.73,224.74 L235.87,225.65 L235.99,226.55 L236.11,227.42 L236.22,228.27 L236.31,229.11 L236.40,229.92 L236.49,230.72 L236.57,231.51 L236.65,232.28 L236.72,233.05 L236.79,233.80 L236.85,234.54 L236.92,235.28 L236.99,236.01 L237.05,236.73 L237.12,237.45 L237.19,238.17 L237.26,238.89 L237.34,239.61 L237.42,240.33 L237.51,241.05 L237.61,241.78 L237.71,242.52 L237.81,243.26 L237.93,244.00 L238.05,244.75 L238.17,245.50 L238.30,246.26 L238.44,247.02 L238.58,247.78 L238.73,248.54 L238.88,249.31 L239.04,250.08 L239.20,250.86 L239.37,251.63 L239.55,252.41 L239.72,253.19 L239.91,253.97 L240.09,254.76 L240.29,255.54 L240.48,256.33 L240.68,257.11 L240.89,257.90 L241.09,258.69 L241.31,259.48 L241.52,260.26 L241.74,261.05 L241.96,261.84 L242.19,262.62 L242.42,263.41 L242.65,264.20 L242.88,264.98 L243.12,265.76 L243.36,266.54 L243.60,267.32 L243.85,268.10 L244.10,268.87 L244.35,269.64 L244.60,270.41 L244.85,271.18 L245.11,271.94 L245.36,272.70 L245.62,273.46 L245.88,274.21 L246.15,274.96 L246.41,275.70 L246.67,276.44 L246.94,277.18 L247.20,277.91 L247.47,278.64 L247.74,279.37 L248.01,280.10 L248.28,280.82 L248.55,281.54 L248.82,282.26 L249.09,282.98 L249.36,283.70 L249.63,284.42 L249.90,285.13 L250.18,285.85 L250.45,286.57 L250.72,287.30 L250.99,288.02 L251.26,288.75 L251.54,289.48 L251.81,290.21 L252.08,290.94 L252.35,291.68 L252.62,292.42 L252.89,293.17 L253.16,293.93 L253.43,294.68 L253.70,295.44 L253.98,296.20 L254.27,296.95 L254.57,297.70 L254.89,298.45 L255.23,299.18 L255.58,299.89 L255.97,300.60 L256.38,301.28 L256.82,301.94 L257.30,302.58 L257.81,303.20 L258.37,303.78 L258.96,304.33 L259.60,304.81 L260.28,305.19 L261.00,305.42 L261.74,305.50 L262.52,305.46 L263.31,305.33 L264.10,305.12 L264.89,304.87 L265.68,304.61 L266.45,304.32 L267.21,304.03 L267.96,303.71 L268.69,303.38 L269.42,303.04 L270.13,302.68 L270.83,302.30 L271.52,301.91 L272.20,301.50 L272.86,301.08 L273.51,300.64 L274.15,300.19 L274.78,299.72 L275.39,299.23 L275.99,298.73 L276.58,298.22 L277.15,297.69 L277.72,297.15 L278.27,296.60 L278.81,296.04 L279.35,295.46 L279.87,294.87 L280.39,294.28 L280.90,293.67 L281.40,293.06 L281.89,292.43 L282.38,291.80 L282.86,291.17 L283.34,290.53 L283.81,289.88 L284.28,289.22 L284.74,288.57 L285.20,287.91 L285.66,287.24 L286.11,286.58 L286.57,285.91 L287.02,285.25 L287.48,284.58 L287.93,283.91 L288.39,283.24 L288.84,282.58 L289.30,281.92 L289.76,281.26 L290.22,280.60 L290.69,279.95 L291.16,279.30 L291.64,278.66 L292.12,278.02 L292.60,277.39 L293.10,276.77 L293.60,276.16 L294.10,275.56 L294.62,274.96 L295.14,274.38 L295.67,273.80 L296.21,273.24 L296.76,272.68 L297.32,272.14 L297.88,271.60 L298.45,271.08 L299.03,270.57 L299.62,270.06 L300.22,269.57 L300.82,269.08 L301.44,268.60 L302.06,268.14 L302.68,267.68 L303.32,267.23 L303.96,266.79 L304.60,266.36 L305.26,265.94 L305.92,265.53 L306.59,265.13 L307.26,264.74 L307.95,264.35 L308.63,263.97 L309.33,263.61 L310.03,263.25 L310.73,262.90 L311.44,262.55 L312.16,262.22 L312.89,261.89 L313.61,261.58 L314.35,261.27 L315.09,260.96 L315.83,260.67 L316.58,260.38 L317.34,260.10 L318.10,259.82 L318.86,259.55 L319.62,259.29 L320.38,259.03 L321.15,258.77 L321.92,258.51 L322.69,258.25 L323.46,258.00 L324.23,257.75 L324.99,257.49 L325.76,257.24 L326.52,256.98 L327.29,256.72 L328.05,256.46 L328.80,256.19 L329.55,255.93 L330.30,255.65 L331.04,255.37 L331.78,255.08 L332.51,254.79 L333.24,254.49 L333.96,254.18 L334.67,253.86 L335.37,253.53 L336.07,253.20 L336.75,252.85 L337.43,252.49 L338.11,252.13 L338.77,251.75 L339.44,251.37 L340.09,250.98 L340.75,250.59 L341.39,250.19 L342.04,249.78 L342.68,249.37 L343.32,248.95 L343.95,248.52 L344.59,248.10 L345.22,247.67 L345.86,247.23 L346.49,246.79 L347.12,246.35 L347.76,245.91 L348.39,245.47 L349.03,245.02 L349.67,244.57 L350.31,244.13 L350.96,243.68 L351.61,243.23 L352.26,242.79 L352.92,242.34 L353.58,241.90 L354.25,241.46 L354.93,241.02 L355.61,240.59 L356.30,240.16 L356.99,239.73 L357.69,239.31 L358.40,238.89 L359.11,238.48 L359.83,238.07 L360.55,237.67 L361.28,237.27 L362.01,236.89 L362.74,236.50 L363.48,236.13 L364.22,235.77 L364.97,235.41 L365.72,235.06 L366.47,234.72 L367.23,234.39 L367.99,234.07 L368.75,233.76 L369.51,233.46 L370.28,233.18 L371.05,232.90 L371.82,232.64 L372.59,232.39 L373.36,232.15 L374.13,231.92 L374.90,231.71 L375.68,231.51 L376.45,231.33 L377.23,231.16 L378.00,231.01 L378.77,230.87 L379.55,230.75 L380.32,230.65 L381.09,230.56 L381.86,230.49 L382.63,230.44 L383.39,230.41 L384.16,230.39 L384.92,230.40 L385.68,230.42 L386.44,230.46 L387.19,230.53 L387.94,230.61 L388.69,230.72 L389.44,230.84 L390.18,230.99 L390.91,231.16 L391.65,231.36 L392.37,231.57 L393.10,231.81 L393.82,232.08 L394.53,232.36 L395.24,232.67 L395.94,233.00 L396.64,233.35 L397.34,233.72 L398.03,234.10 L398.71,234.51 L399.39,234.93 L400.06,235.37 L400.73,235.82 L401.39,236.29 L402.04,236.77 L402.69,237.26 L403.34,237.76 L403.98,238.28 L404.61,238.81 L405.24,239.34 L405.86,239.89 L406.47,240.44 L407.08,241.00 L407.68,241.57 L408.28,242.14 L408.87,242.72 L409.45,243.30 L410.03,243.88 L410.59,244.46 L411.16,245.05 L411.71,245.64 L412.26,246.23 L412.81,246.82 L413.35,247.41 L413.88,248.01 L414.40,248.60 L414.93,249.20 L415.44,249.80 L415.95,250.40 L416.46,251.00 L416.96,251.60 L417.46,252.21 L417.95,252.82 L418.44,253.42 L418.92,254.03 L419.40,254.64 L419.88,255.26 L420.35,255.87 L420.82,256.49 L421.29,257.10 L421.76,257.72 L422.22,258.34 L422.68,258.96 L423.13,259.59 L423.59,260.21 L424.04,260.84 L424.49,261.46 L424.94,262.09 L425.39,262.72 L425.83,263.35 L426.28,263.99 L426.72,264.62 L427.17,265.26 L427.61,265.89 L428.05,266.53 L428.49,267.17 L428.94,267.81 L429.38,268.46 L429.82,269.10 L430.26,269.75 L430.71,270.39 L431.15,271.04 L431.60,271.69 L432.04,272.34 L432.49,272.99 L432.93,273.64 L433.38,274.29 L433.82,274.95 L434.27,275.60 L434.72,276.25 L435.17,276.91 L435.62,277.56 L436.07,278.21 L436.52,278.87 L436.98,279.52 L437.43,280.18 L437.88,280.83 L438.34,281.48 L438.80,282.14 L439.26,282.79 L439.72,283.44 L440.18,284.09 L440.64,284.74 L441.11,285.39 L441.57,286.04 L442.04,286.69 L442.51,287.34 L442.98,287.98 L443.45,288.63 L443.93,289.27 L444.41,289.91 L444.88,290.55 L445.36,291.19 L445.85,291.83 L446.33,292.47 L446.82,293.10 L447.31,293.73 L447.80,294.36 L448.29,294.99 L448.78,295.61 L449.28,296.24 L449.78,296.86 L450.28,297.48 L450.79,298.09 L451.30,298.71 L451.81,299.32 L452.32,299.93 L452.84,300.53 L453.35,301.13 L453.88,301.73 L454.40,302.33 L454.93,302.92 L455.46,303.51 L455.99,304.10 L456.53,304.68 L457.06,305.26 L457.61,305.84 L458.15,306.41 L458.70,306.98 L459.25,307.54 L459.81,308.10 L460.37,308.66 L460.93,309.21 L461.50,309.76 L462.07,310.30 L462.64,310.84 L463.22,311.37 L463.80,311.90 L464.38,312.43 L464.97,312.95 L465.56,313.47 L466.16,313.98 L466.76,314.48 L467.36,314.99 L467.97,315.48 L468.58,315.97 L469.20,316.46 L469.82,316.94 L470.44,317.41 L471.07,317.88 L471.71,318.34 L472.34,318.80 L472.99,319.26 L473.63,319.70 L474.28,320.14 L474.93,320.58 L475.59,321.01 L476.25,321.44 L476.92,321.86 L477.59,322.27 L478.26,322.68 L478.93,323.09 L479.61,323.49 L480.30,323.88 L480.98,324.27 L481.67,324.66 L482.36,325.04 L483.06,325.41 L483.76,325.78 L484.46,326.15 L485.16,326.50 L485.87,326.86 L486.58,327.21 L487.30,327.55 L488.01,327.89 L488.73,328.23 L489.45,328.56 L490.18,328.88 L490.90,329.20 L491.63,329.52 L492.36,329.83 L493.10,330.14 L493.83,330.44 L494.57,330.74 L495.31,331.03 L496.06,331.32 L496.80,331.60 L497.55,331.88 L498.30,332.15 L499.05,332.42 L499.80,332.69 L500.55,332.95 L501.31,333.21 L502.07,333.46 L502.83,333.71 L503.59,333.95 L504.35,334.19 L505.11,334.42 L505.88,334.65 L506.64,334.88 L507.41,335.10 L508.18,335.32 L508.95,335.53 L509.72,335.74 L510.49,335.95 L511.26,336.15 L512.04,336.35 L512.81,336.54 L513.59,336.73 L514.36,336.91 L515.14,337.09 L515.91,337.27 L516.69,337.45 L517.47,337.61 L518.25,337.78 L519.03,337.94 L519.81,338.10 L520.58,338.25 L521.36,338.40 L522.14,338.55 L522.92,338.69 L523.70,338.83 L524.48,338.97 L525.26,339.10 L526.04,339.23 L526.82,339.35 L527.59,339.47 L528.37,339.59 L529.15,339.71 L529.93,339.82 L530.70,339.92 L531.48,340.03 L532.25,340.13 L533.03,340.22 L533.80,340.32 L534.57,340.41 L535.35,340.50 L536.12,340.58 L536.89,340.66 L537.65,340.74 L538.42,340.81 L539.19,340.88 L539.95,340.95 L540.72,341.01 L541.48,341.07 L542.24,341.13 L543.00,341.19" fill="none" stroke="#00b0f0" stroke-width="4.3" stroke-linejoin="round" stroke-linecap="round"/>
<text x="57.6" y="349.9" font-size="16" text-anchor="end">0</text>
<text x="57.6" y="295.0" font-size="16" text-anchor="end">0.2</text>
<text x="57.6" y="240.1" font-size="16" text-anchor="end">0.4</text>
<text x="57.6" y="185.2" font-size="16" text-anchor="end">0.6</text>
<text x="57.6" y="130.3" font-size="16" text-anchor="end">0.8</text>
<text x="57.6" y="75.4" font-size="16" text-anchor="end">1</text>
<text x="57.6" y="20.6" font-size="16" text-anchor="end">1.2</text>
<text x="75.0" y="373.3" font-size="16" text-anchor="middle" textLength="27.6" lengthAdjust="spacingAndGlyphs">300</text>
<text x="179.3" y="373.3" font-size="16" text-anchor="middle" textLength="27.6" lengthAdjust="spacingAndGlyphs">400</text>
<text x="283.6" y="373.3" font-size="16" text-anchor="middle" textLength="27.6" lengthAdjust="spacingAndGlyphs">500</text>
<text x="387.9" y="373.3" font-size="16" text-anchor="middle" textLength="27.6" lengthAdjust="spacingAndGlyphs">600</text>
<text x="492.2" y="373.3" font-size="16" text-anchor="middle" textLength="27.6" lengthAdjust="spacingAndGlyphs">700</text>
<text x="309.6" y="403.5" font-size="17.5" text-anchor="middle" textLength="140.6" lengthAdjust="spacingAndGlyphs">Wavelength (nm)</text>
<text transform="translate(23.6,179.5) rotate(-90)" font-size="17.5" text-anchor="middle" textLength="251.4" lengthAdjust="spacingAndGlyphs">Normalised quantum emission</text>
</svg>
</body></html>
